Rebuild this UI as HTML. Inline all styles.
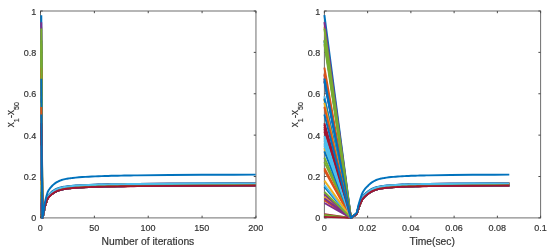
<!DOCTYPE html>
<html><head><meta charset="utf-8"><title>x1-x50</title>
<style>svg text{font-family:"Liberation Sans",Arial,sans-serif;stroke:#333;stroke-width:0.18px}html,body{margin:0;padding:0;background:#fff;width:550px;height:250px;overflow:hidden}</style>
</head><body>
<svg width="550" height="250" viewBox="0 0 550 250" style="display:block;position:absolute;left:0;top:0" >
<rect x="0" y="0" width="550" height="250" fill="#fff"/>
<rect x="40.5" y="11.0" width="215.45" height="206.90" fill="none" stroke="#6e6e6e" stroke-width="1"/>
<path d="M40.50 217.9v-2.2M40.50 11.0v2.2" stroke="#4a4a4a" stroke-width="1" fill="none"/>
<text x="40.30" y="231.1" font-size="9" text-anchor="middle" fill="#333">0</text>
<path d="M94.36 217.9v-2.2M94.36 11.0v2.2" stroke="#4a4a4a" stroke-width="1" fill="none"/>
<text x="94.16" y="231.1" font-size="9" text-anchor="middle" fill="#333">50</text>
<path d="M148.22 217.9v-2.2M148.22 11.0v2.2" stroke="#4a4a4a" stroke-width="1" fill="none"/>
<text x="148.03" y="231.1" font-size="9" text-anchor="middle" fill="#333">100</text>
<path d="M202.09 217.9v-2.2M202.09 11.0v2.2" stroke="#4a4a4a" stroke-width="1" fill="none"/>
<text x="201.89" y="231.1" font-size="9" text-anchor="middle" fill="#333">150</text>
<path d="M255.95 217.9v-2.2M255.95 11.0v2.2" stroke="#4a4a4a" stroke-width="1" fill="none"/>
<text x="255.75" y="231.1" font-size="9" text-anchor="middle" fill="#333">200</text>
<path d="M40.5 217.90h2.2M255.95 217.90h-2.2" stroke="#4a4a4a" stroke-width="1" fill="none"/>
<text x="36.30" y="221.40" font-size="9" text-anchor="end" fill="#333">0</text>
<path d="M40.5 176.52h2.2M255.95 176.52h-2.2" stroke="#4a4a4a" stroke-width="1" fill="none"/>
<text x="36.30" y="180.02" font-size="9" text-anchor="end" fill="#333">0.2</text>
<path d="M40.5 135.14h2.2M255.95 135.14h-2.2" stroke="#4a4a4a" stroke-width="1" fill="none"/>
<text x="36.30" y="138.64" font-size="9" text-anchor="end" fill="#333">0.4</text>
<path d="M40.5 93.76h2.2M255.95 93.76h-2.2" stroke="#4a4a4a" stroke-width="1" fill="none"/>
<text x="36.30" y="97.26" font-size="9" text-anchor="end" fill="#333">0.6</text>
<path d="M40.5 52.38h2.2M255.95 52.38h-2.2" stroke="#4a4a4a" stroke-width="1" fill="none"/>
<text x="36.30" y="55.88" font-size="9" text-anchor="end" fill="#333">0.8</text>
<path d="M40.5 11.00h2.2M255.95 11.00h-2.2" stroke="#4a4a4a" stroke-width="1" fill="none"/>
<text x="36.30" y="14.50" font-size="9" text-anchor="end" fill="#333">1</text>
<text x="147.92" y="244.9" font-size="10.3" text-anchor="middle" fill="#333">Number of iterations</text>
<text transform="translate(13.60 114.65) rotate(-90)" font-size="10" text-anchor="middle" fill="#333">x<tspan font-size="7" dy="5.3">1</tspan><tspan dy="-5.3">-x</tspan><tspan font-size="7" dy="5.3">50</tspan></text>
<g fill="none" stroke-width="1.95" stroke-linejoin="round" stroke-linecap="butt">
<path stroke="#0072BD" d="M41.28 41.00L42.35 217.90L43.43 213.89L44.5 207.99L45.6 203.82L46.7 200.61L47.7 198.13L48.8 196.63L49.9 195.43L51.0 194.43L52.0 193.55L53.1 192.70L54.2 191.98L55.3 191.36L56.4 190.82L57.4 190.35L58.5 189.94L59.6 189.58L60.7 189.25L61.7 188.96L62.8 188.70L63.9 188.48L65.0 188.31L66.1 188.15L67.1 188.01L68.2 187.87L69.3 187.75L70.4 187.64L71.4 187.53L72.5 187.43L75.7 187.16L79.0 186.94L82.2 186.75L85.4 186.59L88.7 186.44L91.9 186.32L95.1 186.21L98.4 186.11L101.6 186.02L104.8 185.94L108.1 185.87L111.3 185.81L114.5 185.75L117.8 185.69L121.0 185.64L124.2 185.59L127.5 185.55L130.7 185.51L133.9 185.47L137.2 185.44L169.5 185.18L201.8 185.03L234.1 184.92L255.6 184.87"/>
<path stroke="#D95319" d="M41.28 80.31L42.35 217.90L43.43 213.94L44.5 208.10L45.6 203.99L46.7 200.81L47.7 198.35L48.8 196.88L49.9 195.68L51.0 194.70L52.0 193.83L53.1 192.99L54.2 192.27L55.3 191.66L56.4 191.13L57.4 190.67L58.5 190.26L59.6 189.90L60.7 189.58L61.7 189.30L62.8 189.04L63.9 188.81L65.0 188.65L66.1 188.49L67.1 188.35L68.2 188.22L69.3 188.10L70.4 187.98L71.4 187.88L72.5 187.78L75.7 187.51L79.0 187.29L82.2 187.11L85.4 186.95L88.7 186.81L91.9 186.68L95.1 186.57L98.4 186.48L101.6 186.39L104.8 186.31L108.1 186.24L111.3 186.18L114.5 186.12L117.8 186.06L121.0 186.01L124.2 185.97L127.5 185.92L130.7 185.88L133.9 185.85L137.2 185.81L169.5 185.56L201.8 185.41L234.1 185.30L255.6 185.25"/>
<path stroke="#EDB120" d="M41.28 26.72L42.35 217.90L43.43 213.80L44.5 207.78L45.6 203.52L46.7 200.23L47.7 197.70L48.8 196.17L49.9 194.94L51.0 193.92L52.0 193.02L53.1 192.15L54.2 191.41L55.3 190.78L56.4 190.23L57.4 189.75L58.5 189.33L59.6 188.96L60.7 188.63L61.7 188.33L62.8 188.07L63.9 187.84L65.0 187.66L66.1 187.51L67.1 187.36L68.2 187.22L69.3 187.10L70.4 186.98L71.4 186.87L72.5 186.77L75.7 186.49L79.0 186.27L82.2 186.07L85.4 185.91L88.7 185.76L91.9 185.63L95.1 185.52L98.4 185.42L101.6 185.33L104.8 185.25L108.1 185.18L111.3 185.11L114.5 185.05L117.8 184.99L121.0 184.94L124.2 184.89L127.5 184.85L130.7 184.81L133.9 184.77L137.2 184.73L169.5 184.47L201.8 184.31L234.1 184.21L255.6 184.15"/>
<path stroke="#7E2F8E" d="M41.28 78.24L42.35 217.90L43.43 213.96L44.5 208.16L45.6 204.06L46.7 200.90L47.7 198.46L48.8 196.99L49.9 195.80L51.0 194.82L52.0 193.96L53.1 193.12L54.2 192.41L55.3 191.80L56.4 191.27L57.4 190.81L58.5 190.41L59.6 190.05L60.7 189.73L61.7 189.45L62.8 189.19L63.9 188.97L65.0 188.80L66.1 188.65L67.1 188.51L68.2 188.38L69.3 188.25L70.4 188.14L71.4 188.04L72.5 187.94L75.7 187.67L79.0 187.46L82.2 187.27L85.4 187.11L88.7 186.97L91.9 186.85L95.1 186.74L98.4 186.64L101.6 186.56L104.8 186.48L108.1 186.41L111.3 186.34L114.5 186.28L117.8 186.23L121.0 186.18L124.2 186.13L127.5 186.09L130.7 186.05L133.9 186.01L137.2 185.98L169.5 185.73L201.8 185.58L234.1 185.47L255.6 185.42"/>
<path stroke="#77AC30" d="M41.28 162.04L42.35 217.90L43.43 213.83L44.5 207.85L45.6 203.63L46.7 200.36L47.7 197.85L48.8 196.33L49.9 195.11L51.0 194.10L52.0 193.21L53.1 192.34L54.2 191.61L55.3 190.98L56.4 190.44L57.4 189.96L58.5 189.55L59.6 189.18L60.7 188.85L61.7 188.56L62.8 188.29L63.9 188.06L65.0 187.89L66.1 187.73L67.1 187.59L68.2 187.45L69.3 187.33L70.4 187.21L71.4 187.10L72.5 187.00L75.7 186.73L79.0 186.50L82.2 186.31L85.4 186.15L88.7 186.00L91.9 185.88L95.1 185.76L98.4 185.66L101.6 185.58L104.8 185.49L108.1 185.42L111.3 185.36L114.5 185.29L117.8 185.24L121.0 185.19L124.2 185.14L127.5 185.10L130.7 185.06L133.9 185.02L137.2 184.98L169.5 184.72L201.8 184.56L234.1 184.46L255.6 184.41"/>
<path stroke="#4DBEEE" d="M41.28 138.24L42.35 217.90L43.43 213.88L44.5 207.96L45.6 203.79L46.7 200.56L47.7 198.07L48.8 196.57L49.9 195.36L51.0 194.37L52.0 193.48L53.1 192.63L54.2 191.90L55.3 191.28L56.4 190.74L57.4 190.27L58.5 189.86L59.6 189.50L60.7 189.17L61.7 188.88L62.8 188.62L63.9 188.39L65.0 188.22L66.1 188.07L67.1 187.92L68.2 187.79L69.3 187.67L70.4 187.55L71.4 187.44L72.5 187.34L75.7 187.08L79.0 186.85L82.2 186.66L85.4 186.50L88.7 186.36L91.9 186.23L95.1 186.12L98.4 186.02L101.6 185.94L104.8 185.86L108.1 185.78L111.3 185.72L114.5 185.66L117.8 185.60L121.0 185.55L124.2 185.51L127.5 185.46L130.7 185.42L133.9 185.38L137.2 185.35L169.5 185.09L201.8 184.94L234.1 184.83L255.6 184.78"/>
<path stroke="#A2142F" d="M41.28 128.93L42.35 217.90L43.43 213.96L44.5 208.17L45.6 204.07L46.7 200.91L47.7 198.48L48.8 197.01L49.9 195.82L51.0 194.85L52.0 193.98L53.1 193.14L54.2 192.43L55.3 191.82L56.4 191.30L57.4 190.84L58.5 190.43L59.6 190.08L60.7 189.76L61.7 189.47L62.8 189.22L63.9 189.00L65.0 188.83L66.1 188.68L67.1 188.54L68.2 188.40L69.3 188.28L70.4 188.17L71.4 188.06L72.5 187.97L75.7 187.70L79.0 187.49L82.2 187.30L85.4 187.14L88.7 187.00L91.9 186.88L95.1 186.77L98.4 186.67L101.6 186.59L104.8 186.51L108.1 186.44L111.3 186.37L114.5 186.32L117.8 186.26L121.0 186.21L124.2 186.17L127.5 186.12L130.7 186.08L133.9 186.05L137.2 186.01L169.5 185.76L201.8 185.61L234.1 185.51L255.6 185.46"/>
<path stroke="#0072BD" d="M41.28 186.87L42.35 217.90L43.43 213.84L44.5 207.87L45.6 203.65L46.7 200.40L47.7 197.89L48.8 196.37L49.9 195.15L51.0 194.15L52.0 193.25L53.1 192.39L54.2 191.66L55.3 191.03L56.4 190.49L57.4 190.02L58.5 189.60L59.6 189.23L60.7 188.90L61.7 188.61L62.8 188.35L63.9 188.12L65.0 187.95L66.1 187.79L67.1 187.64L68.2 187.51L69.3 187.38L70.4 187.27L71.4 187.16L72.5 187.06L75.7 186.79L79.0 186.56L82.2 186.37L85.4 186.20L88.7 186.06L91.9 185.94L95.1 185.82L98.4 185.72L101.6 185.64L104.8 185.56L108.1 185.48L111.3 185.42L114.5 185.36L117.8 185.30L121.0 185.25L124.2 185.20L127.5 185.16L130.7 185.12L133.9 185.08L137.2 185.04L169.5 184.78L201.8 184.63L234.1 184.52L255.6 184.47"/>
<path stroke="#D95319" d="M41.28 200.31L42.35 217.90L43.43 213.97L44.5 208.18L45.6 204.09L46.7 200.94L47.7 198.50L48.8 197.04L49.9 195.85L51.0 194.88L52.0 194.01L53.1 193.18L54.2 192.47L55.3 191.86L56.4 191.33L57.4 190.88L58.5 190.47L59.6 190.11L60.7 189.80L61.7 189.51L62.8 189.26L63.9 189.04L65.0 188.87L66.1 188.72L67.1 188.58L68.2 188.45L69.3 188.32L70.4 188.21L71.4 188.11L72.5 188.01L75.7 187.75L79.0 187.53L82.2 187.34L85.4 187.18L88.7 187.04L91.9 186.92L95.1 186.81L98.4 186.72L101.6 186.63L104.8 186.55L108.1 186.48L111.3 186.42L114.5 186.36L117.8 186.30L121.0 186.26L124.2 186.21L127.5 186.17L130.7 186.13L133.9 186.09L137.2 186.06L169.5 185.80L201.8 185.65L234.1 185.55L255.6 185.50"/>
<path stroke="#EDB120" d="M41.28 148.17L42.35 217.90L43.43 213.86L44.5 207.92L45.6 203.72L46.7 200.48L47.7 197.98L48.8 196.48L49.9 195.26L51.0 194.26L52.0 193.37L53.1 192.51L54.2 191.79L55.3 191.16L56.4 190.62L57.4 190.15L58.5 189.74L59.6 189.37L60.7 189.04L61.7 188.75L62.8 188.49L63.9 188.26L65.0 188.09L66.1 187.93L67.1 187.79L68.2 187.66L69.3 187.53L70.4 187.41L71.4 187.31L72.5 187.21L75.7 186.94L79.0 186.71L82.2 186.52L85.4 186.36L88.7 186.22L91.9 186.09L95.1 185.98L98.4 185.88L101.6 185.79L104.8 185.71L108.1 185.64L111.3 185.57L114.5 185.51L117.8 185.46L121.0 185.41L124.2 185.36L127.5 185.32L130.7 185.27L133.9 185.24L137.2 185.20L169.5 184.94L201.8 184.79L234.1 184.68L255.6 184.63"/>
<path stroke="#7E2F8E" d="M41.28 75.14L42.35 217.90L43.43 213.96L44.5 208.16L45.6 204.06L46.7 200.90L47.7 198.46L48.8 196.99L49.9 195.80L51.0 194.83L52.0 193.96L53.1 193.12L54.2 192.41L55.3 191.80L56.4 191.28L57.4 190.82L58.5 190.41L59.6 190.05L60.7 189.74L61.7 189.45L62.8 189.19L63.9 188.97L65.0 188.81L66.1 188.65L67.1 188.51L68.2 188.38L69.3 188.26L70.4 188.15L71.4 188.04L72.5 187.94L75.7 187.68L79.0 187.46L82.2 187.28L85.4 187.11L88.7 186.98L91.9 186.85L95.1 186.74L98.4 186.65L101.6 186.56L104.8 186.48L108.1 186.41L111.3 186.35L114.5 186.29L117.8 186.24L121.0 186.19L124.2 186.14L127.5 186.10L130.7 186.06L133.9 186.02L137.2 185.99L169.5 185.73L201.8 185.58L234.1 185.48L255.6 185.43"/>
<path stroke="#77AC30" d="M41.28 157.69L42.35 217.90L43.43 213.95L44.5 208.14L45.6 204.04L46.7 200.88L47.7 198.43L48.8 196.96L49.9 195.77L51.0 194.79L52.0 193.93L53.1 193.09L54.2 192.38L55.3 191.77L56.4 191.24L57.4 190.78L58.5 190.37L59.6 190.01L60.7 189.70L61.7 189.41L62.8 189.15L63.9 188.93L65.0 188.77L66.1 188.61L67.1 188.47L68.2 188.34L69.3 188.22L70.4 188.10L71.4 188.00L72.5 187.90L75.7 187.64L79.0 187.42L82.2 187.23L85.4 187.07L88.7 186.93L91.9 186.81L95.1 186.70L98.4 186.60L101.6 186.52L104.8 186.44L108.1 186.37L111.3 186.30L114.5 186.25L117.8 186.19L121.0 186.14L124.2 186.10L127.5 186.05L130.7 186.01L133.9 185.98L137.2 185.94L169.5 185.69L201.8 185.54L234.1 185.43L255.6 185.38"/>
<path stroke="#4DBEEE" d="M41.28 143.42L42.35 217.90L43.43 213.86L44.5 207.92L45.6 203.73L46.7 200.49L47.7 198.00L48.8 196.49L49.9 195.28L51.0 194.27L52.0 193.39L53.1 192.53L54.2 191.80L55.3 191.18L56.4 190.64L57.4 190.17L58.5 189.75L59.6 189.39L60.7 189.06L61.7 188.77L62.8 188.51L63.9 188.28L65.0 188.11L66.1 187.95L67.1 187.81L68.2 187.67L69.3 187.55L70.4 187.43L71.4 187.33L72.5 187.22L75.7 186.96L79.0 186.73L82.2 186.54L85.4 186.38L88.7 186.23L91.9 186.11L95.1 186.00L98.4 185.90L101.6 185.81L104.8 185.73L108.1 185.66L111.3 185.59L114.5 185.53L117.8 185.48L121.0 185.43L124.2 185.38L127.5 185.34L130.7 185.29L133.9 185.26L137.2 185.22L169.5 184.96L201.8 184.81L234.1 184.70L255.6 184.65"/>
<path stroke="#A2142F" d="M41.28 214.18L42.35 217.90L43.43 213.76L44.5 207.66L45.6 203.35L46.7 200.03L47.7 197.47L48.8 195.92L49.9 194.68L51.0 193.65L52.0 192.74L53.1 191.86L54.2 191.11L55.3 190.47L56.4 189.91L57.4 189.43L58.5 189.01L59.6 188.63L60.7 188.30L61.7 188.00L62.8 187.73L63.9 187.49L65.0 187.32L66.1 187.16L67.1 187.01L68.2 186.87L69.3 186.74L70.4 186.62L71.4 186.51L72.5 186.41L75.7 186.14L79.0 185.90L82.2 185.71L85.4 185.54L88.7 185.39L91.9 185.27L95.1 185.15L98.4 185.05L101.6 184.96L104.8 184.88L108.1 184.80L111.3 184.74L114.5 184.67L117.8 184.62L121.0 184.56L124.2 184.52L127.5 184.47L130.7 184.43L133.9 184.39L137.2 184.35L169.5 184.09L201.8 183.93L234.1 183.82L255.6 183.77"/>
<path stroke="#0072BD" d="M41.28 15.14L42.35 217.90L43.43 213.94L44.5 208.12L45.6 204.01L46.7 200.84L47.7 198.39L48.8 196.92L49.9 195.72L51.0 194.74L52.0 193.87L53.1 193.03L54.2 192.32L55.3 191.71L56.4 191.18L57.4 190.72L58.5 190.31L59.6 189.95L60.7 189.63L61.7 189.35L62.8 189.09L63.9 188.87L65.0 188.70L66.1 188.55L67.1 188.40L68.2 188.27L69.3 188.15L70.4 188.04L71.4 187.93L72.5 187.83L75.7 187.57L79.0 187.35L82.2 187.16L85.4 187.00L88.7 186.86L91.9 186.74L95.1 186.63L98.4 186.53L101.6 186.45L104.8 186.37L108.1 186.30L111.3 186.23L114.5 186.17L117.8 186.12L121.0 186.07L124.2 186.02L127.5 185.98L130.7 185.94L133.9 185.90L137.2 185.87L169.5 185.62L201.8 185.46L234.1 185.36L255.6 185.31"/>
<path stroke="#D95319" d="M41.28 170.31L42.35 217.90L43.43 213.92L44.5 208.06L45.6 203.92L46.7 200.72L47.7 198.26L48.8 196.77L49.9 195.58L51.0 194.59L52.0 193.71L53.1 192.87L54.2 192.15L55.3 191.53L56.4 191.00L57.4 190.54L58.5 190.13L59.6 189.77L60.7 189.44L61.7 189.16L62.8 188.90L63.9 188.67L65.0 188.50L66.1 188.35L67.1 188.21L68.2 188.07L69.3 187.95L70.4 187.84L71.4 187.73L72.5 187.63L75.7 187.37L79.0 187.15L82.2 186.96L85.4 186.80L88.7 186.66L91.9 186.53L95.1 186.42L98.4 186.32L101.6 186.24L104.8 186.16L108.1 186.09L111.3 186.02L114.5 185.96L117.8 185.91L121.0 185.86L124.2 185.81L127.5 185.77L130.7 185.73L133.9 185.69L137.2 185.66L169.5 185.40L201.8 185.25L234.1 185.14L255.6 185.09"/>
<path stroke="#EDB120" d="M41.28 99.55L42.35 217.90L43.43 213.81L44.5 207.79L45.6 203.54L46.7 200.26L47.7 197.73L48.8 196.20L49.9 194.97L51.0 193.96L52.0 193.06L53.1 192.19L54.2 191.45L55.3 190.82L56.4 190.27L57.4 189.80L58.5 189.38L59.6 189.01L60.7 188.67L61.7 188.38L62.8 188.11L63.9 187.88L65.0 187.71L66.1 187.55L67.1 187.40L68.2 187.27L69.3 187.14L70.4 187.03L71.4 186.92L72.5 186.81L75.7 186.54L79.0 186.31L82.2 186.12L85.4 185.96L88.7 185.81L91.9 185.68L95.1 185.57L98.4 185.47L101.6 185.38L104.8 185.30L108.1 185.23L111.3 185.16L114.5 185.10L117.8 185.04L121.0 184.99L124.2 184.94L127.5 184.90L130.7 184.86L133.9 184.82L137.2 184.78L169.5 184.52L201.8 184.37L234.1 184.26L255.6 184.21"/>
<path stroke="#7E2F8E" d="M41.28 22.17L42.35 217.90L43.43 213.72L44.5 207.58L45.6 203.24L46.7 199.89L47.7 197.31L48.8 195.75L49.9 194.49L51.0 193.46L52.0 192.54L53.1 191.65L54.2 190.90L55.3 190.26L56.4 189.70L57.4 189.21L58.5 188.78L59.6 188.40L60.7 188.07L61.7 187.76L62.8 187.49L63.9 187.26L65.0 187.08L66.1 186.92L67.1 186.77L68.2 186.63L69.3 186.50L70.4 186.38L71.4 186.27L72.5 186.17L75.7 185.89L79.0 185.66L82.2 185.46L85.4 185.29L88.7 185.14L91.9 185.01L95.1 184.90L98.4 184.80L101.6 184.70L104.8 184.62L108.1 184.55L111.3 184.48L114.5 184.42L117.8 184.36L121.0 184.31L124.2 184.26L127.5 184.21L130.7 184.17L133.9 184.13L137.2 184.09L169.5 183.83L201.8 183.67L234.1 183.56L255.6 183.50"/>
<path stroke="#77AC30" d="M41.28 215.00L42.35 217.90L43.43 213.82L44.5 207.82L45.6 203.59L46.7 200.32L47.7 197.79L48.8 196.28L49.9 195.05L51.0 194.04L52.0 193.14L53.1 192.27L54.2 191.54L55.3 190.91L56.4 190.36L57.4 189.89L58.5 189.47L59.6 189.10L60.7 188.77L61.7 188.48L62.8 188.21L63.9 187.98L65.0 187.81L66.1 187.65L67.1 187.50L68.2 187.37L69.3 187.24L70.4 187.13L71.4 187.02L72.5 186.92L75.7 186.64L79.0 186.42L82.2 186.23L85.4 186.06L88.7 185.92L91.9 185.79L95.1 185.68L98.4 185.58L101.6 185.49L104.8 185.41L108.1 185.33L111.3 185.27L114.5 185.21L117.8 185.15L121.0 185.10L124.2 185.05L127.5 185.01L130.7 184.97L133.9 184.93L137.2 184.89L169.5 184.63L201.8 184.47L234.1 184.37L255.6 184.32"/>
<path stroke="#4DBEEE" d="M41.28 140.31L42.35 217.90L43.43 213.87L44.5 207.94L45.6 203.76L46.7 200.52L47.7 198.03L48.8 196.53L49.9 195.32L51.0 194.32L52.0 193.43L53.1 192.58L54.2 191.85L55.3 191.23L56.4 190.69L57.4 190.22L58.5 189.80L59.6 189.44L60.7 189.11L61.7 188.82L62.8 188.56L63.9 188.33L65.0 188.16L66.1 188.01L67.1 187.86L68.2 187.73L69.3 187.60L70.4 187.49L71.4 187.38L72.5 187.28L75.7 187.01L79.0 186.79L82.2 186.60L85.4 186.44L88.7 186.29L91.9 186.17L95.1 186.06L98.4 185.96L101.6 185.87L104.8 185.79L108.1 185.72L111.3 185.65L114.5 185.59L117.8 185.54L121.0 185.49L124.2 185.44L127.5 185.40L130.7 185.35L133.9 185.32L137.2 185.28L169.5 185.02L201.8 184.87L234.1 184.76L255.6 184.71"/>
<path stroke="#A2142F" d="M41.28 216.87L42.35 217.90L43.43 213.72L44.5 207.56L45.6 203.21L46.7 199.86L47.7 197.27L48.8 195.71L49.9 194.45L51.0 193.41L52.0 192.49L53.1 191.61L54.2 190.85L55.3 190.21L56.4 189.65L57.4 189.16L58.5 188.73L59.6 188.35L60.7 188.01L61.7 187.71L62.8 187.44L63.9 187.20L65.0 187.03L66.1 186.86L67.1 186.71L68.2 186.57L69.3 186.44L70.4 186.32L71.4 186.21L72.5 186.11L75.7 185.83L79.0 185.60L82.2 185.40L85.4 185.23L88.7 185.08L91.9 184.95L95.1 184.84L98.4 184.74L101.6 184.64L104.8 184.56L108.1 184.49L111.3 184.42L114.5 184.35L117.8 184.30L121.0 184.24L124.2 184.20L127.5 184.15L130.7 184.11L133.9 184.07L137.2 184.03L169.5 183.76L201.8 183.60L234.1 183.50L255.6 183.44"/>
<path stroke="#0072BD" d="M41.28 151.28L42.35 217.90L43.43 213.96L44.5 208.17L45.6 204.08L46.7 200.93L47.7 198.49L48.8 197.02L49.9 195.84L51.0 194.86L52.0 194.00L53.1 193.16L54.2 192.45L55.3 191.84L56.4 191.32L57.4 190.86L58.5 190.45L59.6 190.10L60.7 189.78L61.7 189.50L62.8 189.24L63.9 189.02L65.0 188.85L66.1 188.70L67.1 188.56L68.2 188.43L69.3 188.31L70.4 188.19L71.4 188.09L72.5 187.99L75.7 187.73L79.0 187.51L82.2 187.32L85.4 187.16L88.7 187.02L91.9 186.90L95.1 186.79L98.4 186.70L101.6 186.61L104.8 186.53L108.1 186.46L111.3 186.40L114.5 186.34L117.8 186.29L121.0 186.24L124.2 186.19L127.5 186.15L130.7 186.11L133.9 186.07L137.2 186.04L169.5 185.78L201.8 185.63L234.1 185.53L255.6 185.48"/>
<path stroke="#D95319" d="M41.28 168.24L42.35 217.90L43.43 213.75L44.5 207.64L45.6 203.32L46.7 199.99L47.7 197.43L48.8 195.88L49.9 194.63L51.0 193.60L52.0 192.68L53.1 191.80L54.2 191.06L55.3 190.41L56.4 189.86L57.4 189.37L58.5 188.95L59.6 188.57L60.7 188.24L61.7 187.94L62.8 187.67L63.9 187.43L65.0 187.26L66.1 187.10L67.1 186.95L68.2 186.81L69.3 186.68L70.4 186.56L71.4 186.45L72.5 186.35L75.7 186.07L79.0 185.84L82.2 185.64L85.4 185.48L88.7 185.33L91.9 185.20L95.1 185.09L98.4 184.98L101.6 184.89L104.8 184.81L108.1 184.74L111.3 184.67L114.5 184.61L117.8 184.55L121.0 184.50L124.2 184.45L127.5 184.40L130.7 184.36L133.9 184.32L137.2 184.29L169.5 184.02L201.8 183.86L234.1 183.75L255.6 183.70"/>
<path stroke="#EDB120" d="M41.28 98.93L42.35 217.90L43.43 213.90L44.5 208.01L45.6 203.86L46.7 200.65L47.7 198.17L48.8 196.68L49.9 195.48L51.0 194.48L52.0 193.60L53.1 192.76L54.2 192.03L55.3 191.42L56.4 190.88L57.4 190.41L58.5 190.00L59.6 189.64L60.7 189.32L61.7 189.03L62.8 188.77L63.9 188.54L65.0 188.37L66.1 188.22L67.1 188.08L68.2 187.94L69.3 187.82L70.4 187.70L71.4 187.60L72.5 187.50L75.7 187.23L79.0 187.01L82.2 186.82L85.4 186.66L88.7 186.52L91.9 186.39L95.1 186.28L98.4 186.18L101.6 186.10L104.8 186.02L108.1 185.95L111.3 185.88L114.5 185.82L117.8 185.77L121.0 185.72L124.2 185.67L127.5 185.63L130.7 185.58L133.9 185.55L137.2 185.51L169.5 185.26L201.8 185.10L234.1 185.00L255.6 184.95"/>
<path stroke="#7E2F8E" d="M41.28 81.35L42.35 217.90L43.43 213.94L44.5 208.11L45.6 203.99L46.7 200.81L47.7 198.36L48.8 196.89L49.9 195.69L51.0 194.71L52.0 193.84L53.1 193.00L54.2 192.28L55.3 191.67L56.4 191.14L57.4 190.68L58.5 190.27L59.6 189.91L60.7 189.59L61.7 189.31L62.8 189.05L63.9 188.83L65.0 188.66L66.1 188.51L67.1 188.36L68.2 188.23L69.3 188.11L70.4 188.00L71.4 187.89L72.5 187.79L75.7 187.53L79.0 187.31L82.2 187.12L85.4 186.96L88.7 186.82L91.9 186.70L95.1 186.59L98.4 186.49L101.6 186.40L104.8 186.33L108.1 186.25L111.3 186.19L114.5 186.13L117.8 186.08L121.0 186.03L124.2 185.98L127.5 185.94L130.7 185.90L133.9 185.86L137.2 185.83L169.5 185.57L201.8 185.42L234.1 185.32L255.6 185.27"/>
<path stroke="#77AC30" d="M41.28 39.97L42.35 217.90L43.43 213.94L44.5 208.13L45.6 204.02L46.7 200.84L47.7 198.40L48.8 196.92L49.9 195.73L51.0 194.75L52.0 193.88L53.1 193.04L54.2 192.33L55.3 191.72L56.4 191.19L57.4 190.73L58.5 190.32L59.6 189.96L60.7 189.64L61.7 189.36L62.8 189.10L63.9 188.88L65.0 188.71L66.1 188.56L67.1 188.42L68.2 188.29L69.3 188.16L70.4 188.05L71.4 187.94L72.5 187.84L75.7 187.58L79.0 187.36L82.2 187.18L85.4 187.02L88.7 186.88L91.9 186.75L95.1 186.64L98.4 186.55L101.6 186.46L104.8 186.38L108.1 186.31L111.3 186.25L114.5 186.19L117.8 186.13L121.0 186.08L124.2 186.04L127.5 185.99L130.7 185.95L133.9 185.92L137.2 185.88L169.5 185.63L201.8 185.48L234.1 185.38L255.6 185.32"/>
<path stroke="#4DBEEE" d="M41.28 185.00L42.35 217.90L43.43 213.89L44.5 208.00L45.6 203.84L46.7 200.63L47.7 198.15L48.8 196.65L49.9 195.45L51.0 194.46L52.0 193.57L53.1 192.72L54.2 192.00L55.3 191.38L56.4 190.85L57.4 190.38L58.5 189.97L59.6 189.61L60.7 189.28L61.7 188.99L62.8 188.73L63.9 188.51L65.0 188.34L66.1 188.18L67.1 188.04L68.2 187.90L69.3 187.78L70.4 187.67L71.4 187.56L72.5 187.46L75.7 187.19L79.0 186.97L82.2 186.78L85.4 186.62L88.7 186.48L91.9 186.35L95.1 186.24L98.4 186.14L101.6 186.06L104.8 185.98L108.1 185.91L111.3 185.84L114.5 185.78L117.8 185.73L121.0 185.67L124.2 185.63L127.5 185.58L130.7 185.54L133.9 185.51L137.2 185.47L169.5 185.22L201.8 185.06L234.1 184.96L255.6 184.91"/>
<path stroke="#A2142F" d="M41.28 124.80L42.35 217.90L43.43 213.76L44.5 207.67L45.6 203.36L46.7 200.04L47.7 197.48L48.8 195.94L49.9 194.69L51.0 193.66L52.0 192.75L53.1 191.87L54.2 191.13L55.3 190.49L56.4 189.93L57.4 189.45L58.5 189.03L59.6 188.65L60.7 188.32L61.7 188.02L62.8 187.75L63.9 187.51L65.0 187.34L66.1 187.18L67.1 187.03L68.2 186.89L69.3 186.77L70.4 186.65L71.4 186.54L72.5 186.43L75.7 186.16L79.0 185.93L82.2 185.73L85.4 185.56L88.7 185.42L91.9 185.29L95.1 185.17L98.4 185.07L101.6 184.98L104.8 184.90L108.1 184.83L111.3 184.76L114.5 184.70L117.8 184.64L121.0 184.59L124.2 184.54L127.5 184.49L130.7 184.45L133.9 184.41L137.2 184.38L169.5 184.11L201.8 183.95L234.1 183.85L255.6 183.79"/>
<path stroke="#0072BD" d="M41.28 81.35L42.35 217.90L43.43 213.93L44.5 208.08L45.6 203.96L46.7 200.77L47.7 198.32L48.8 196.83L49.9 195.64L51.0 194.65L52.0 193.78L53.1 192.94L54.2 192.22L55.3 191.61L56.4 191.08L57.4 190.61L58.5 190.21L59.6 189.85L60.7 189.52L61.7 189.24L62.8 188.98L63.9 188.76L65.0 188.59L66.1 188.43L67.1 188.29L68.2 188.16L69.3 188.04L70.4 187.92L71.4 187.82L72.5 187.72L75.7 187.45L79.0 187.23L82.2 187.05L85.4 186.88L88.7 186.74L91.9 186.62L95.1 186.51L98.4 186.41L101.6 186.33L104.8 186.25L108.1 186.18L111.3 186.11L114.5 186.05L117.8 186.00L121.0 185.95L124.2 185.90L127.5 185.86L130.7 185.82L133.9 185.78L137.2 185.75L169.5 185.49L201.8 185.34L234.1 185.24L255.6 185.19"/>
<path stroke="#D95319" d="M41.28 73.69L42.35 217.90L43.43 213.82L44.5 207.82L45.6 203.58L46.7 200.31L47.7 197.79L48.8 196.27L49.9 195.04L51.0 194.03L52.0 193.13L53.1 192.27L54.2 191.53L55.3 190.90L56.4 190.36L57.4 189.88L58.5 189.46L59.6 189.09L60.7 188.76L61.7 188.47L62.8 188.20L63.9 187.97L65.0 187.80L66.1 187.64L67.1 187.50L68.2 187.36L69.3 187.23L70.4 187.12L71.4 187.01L72.5 186.91L75.7 186.64L79.0 186.41L82.2 186.22L85.4 186.05L88.7 185.91L91.9 185.78L95.1 185.67L98.4 185.57L101.6 185.48L104.8 185.40L108.1 185.32L111.3 185.26L114.5 185.20L117.8 185.14L121.0 185.09L124.2 185.04L127.5 185.00L130.7 184.96L133.9 184.92L137.2 184.88L169.5 184.62L201.8 184.47L234.1 184.36L255.6 184.31"/>
<path stroke="#EDB120" d="M41.28 196.80L42.35 217.90L43.43 213.81L44.5 207.78L45.6 203.53L46.7 200.25L47.7 197.71L48.8 196.19L49.9 194.96L51.0 193.94L52.0 193.04L53.1 192.17L54.2 191.43L55.3 190.80L56.4 190.25L57.4 189.77L58.5 189.35L59.6 188.98L60.7 188.65L61.7 188.36L62.8 188.09L63.9 187.86L65.0 187.69L66.1 187.53L67.1 187.38L68.2 187.25L69.3 187.12L70.4 187.00L71.4 186.89L72.5 186.79L75.7 186.52L79.0 186.29L82.2 186.10L85.4 185.93L88.7 185.79L91.9 185.66L95.1 185.55L98.4 185.45L101.6 185.36L104.8 185.28L108.1 185.20L111.3 185.14L114.5 185.07L117.8 185.02L121.0 184.97L124.2 184.92L127.5 184.87L130.7 184.83L133.9 184.80L137.2 184.76L169.5 184.50L201.8 184.34L234.1 184.23L255.6 184.18"/>
<path stroke="#7E2F8E" d="M41.28 194.31L42.35 217.90L43.43 213.88L44.5 207.96L45.6 203.78L46.7 200.55L47.7 198.06L48.8 196.56L49.9 195.35L51.0 194.36L52.0 193.47L53.1 192.62L54.2 191.89L55.3 191.27L56.4 190.73L57.4 190.26L58.5 189.85L59.6 189.48L60.7 189.16L61.7 188.87L62.8 188.61L63.9 188.38L65.0 188.21L66.1 188.06L67.1 187.91L68.2 187.78L69.3 187.65L70.4 187.54L71.4 187.43L72.5 187.33L75.7 187.06L79.0 186.84L82.2 186.65L85.4 186.49L88.7 186.34L91.9 186.22L95.1 186.11L98.4 186.01L101.6 185.92L104.8 185.84L108.1 185.77L111.3 185.70L114.5 185.64L117.8 185.59L121.0 185.54L124.2 185.49L127.5 185.45L130.7 185.41L133.9 185.37L137.2 185.33L169.5 185.08L201.8 184.92L234.1 184.82L255.6 184.77"/>
<path stroke="#77AC30" d="M41.28 28.59L42.35 217.90L43.43 213.83L44.5 207.84L45.6 203.62L46.7 200.35L47.7 197.83L48.8 196.32L49.9 195.09L51.0 194.08L52.0 193.19L53.1 192.32L54.2 191.59L55.3 190.96L56.4 190.42L57.4 189.94L58.5 189.52L59.6 189.16L60.7 188.83L61.7 188.53L62.8 188.27L63.9 188.04L65.0 187.87L66.1 187.71L67.1 187.56L68.2 187.43L69.3 187.30L70.4 187.19L71.4 187.08L72.5 186.97L75.7 186.70L79.0 186.48L82.2 186.29L85.4 186.12L88.7 185.98L91.9 185.85L95.1 185.74L98.4 185.64L101.6 185.55L104.8 185.47L108.1 185.40L111.3 185.33L114.5 185.27L117.8 185.21L121.0 185.16L124.2 185.11L127.5 185.07L130.7 185.03L133.9 184.99L137.2 184.96L169.5 184.70L201.8 184.54L234.1 184.43L255.6 184.38"/>
<path stroke="#4DBEEE" d="M41.28 96.24L42.35 217.90L43.43 213.96L44.5 208.16L45.6 204.07L46.7 200.91L47.7 198.47L48.8 197.00L49.9 195.82L51.0 194.84L52.0 193.97L53.1 193.13L54.2 192.42L55.3 191.82L56.4 191.29L57.4 190.83L58.5 190.42L59.6 190.07L60.7 189.75L61.7 189.46L62.8 189.21L63.9 188.99L65.0 188.82L66.1 188.67L67.1 188.53L68.2 188.39L69.3 188.27L70.4 188.16L71.4 188.05L72.5 187.96L75.7 187.69L79.0 187.48L82.2 187.29L85.4 187.13L88.7 186.99L91.9 186.87L95.1 186.76L98.4 186.66L101.6 186.58L104.8 186.50L108.1 186.43L111.3 186.36L114.5 186.30L117.8 186.25L121.0 186.20L124.2 186.15L127.5 186.11L130.7 186.07L133.9 186.04L137.2 186.00L169.5 185.75L201.8 185.60L234.1 185.50L255.6 185.44"/>
<path stroke="#A2142F" d="M41.28 131.42L42.35 217.90L43.43 213.96L44.5 208.16L45.6 204.07L46.7 200.91L47.7 198.47L48.8 197.01L49.9 195.82L51.0 194.84L52.0 193.98L53.1 193.14L54.2 192.43L55.3 191.82L56.4 191.29L57.4 190.83L58.5 190.43L59.6 190.07L60.7 189.76L61.7 189.47L62.8 189.21L63.9 188.99L65.0 188.83L66.1 188.67L67.1 188.53L68.2 188.40L69.3 188.28L70.4 188.17L71.4 188.06L72.5 187.96L75.7 187.70L79.0 187.48L82.2 187.30L85.4 187.14L88.7 187.00L91.9 186.87L95.1 186.77L98.4 186.67L101.6 186.58L104.8 186.51L108.1 186.43L111.3 186.37L114.5 186.31L117.8 186.26L121.0 186.21L124.2 186.16L127.5 186.12L130.7 186.08L133.9 186.04L137.2 186.01L169.5 185.76L201.8 185.60L234.1 185.50L255.6 185.45"/>
<path stroke="#0072BD" d="M41.28 98.52L42.35 217.90L43.43 213.92L44.5 208.07L45.6 203.93L46.7 200.74L47.7 198.28L48.8 196.80L49.9 195.60L51.0 194.62L52.0 193.74L53.1 192.90L54.2 192.18L55.3 191.56L56.4 191.03L57.4 190.57L58.5 190.16L59.6 189.80L60.7 189.48L61.7 189.19L62.8 188.93L63.9 188.71L65.0 188.54L66.1 188.38L67.1 188.24L68.2 188.11L69.3 187.99L70.4 187.87L71.4 187.77L72.5 187.67L75.7 187.40L79.0 187.18L82.2 186.99L85.4 186.83L88.7 186.69L91.9 186.57L95.1 186.46L98.4 186.36L101.6 186.27L104.8 186.19L108.1 186.12L111.3 186.06L114.5 186.00L117.8 185.94L121.0 185.89L124.2 185.85L127.5 185.80L130.7 185.76L133.9 185.73L137.2 185.69L169.5 185.44L201.8 185.29L234.1 185.18L255.6 185.13"/>
<path stroke="#D95319" d="M41.28 67.69L42.35 217.90L43.43 213.79L44.5 207.76L45.6 203.49L46.7 200.20L47.7 197.66L48.8 196.13L49.9 194.89L51.0 193.88L52.0 192.97L53.1 192.10L54.2 191.36L55.3 190.73L56.4 190.18L57.4 189.70L58.5 189.28L59.6 188.91L60.7 188.57L61.7 188.28L62.8 188.01L63.9 187.78L65.0 187.61L66.1 187.45L67.1 187.30L68.2 187.16L69.3 187.04L70.4 186.92L71.4 186.81L72.5 186.71L75.7 186.43L79.0 186.21L82.2 186.01L85.4 185.85L88.7 185.70L91.9 185.57L95.1 185.46L98.4 185.36L101.6 185.27L104.8 185.19L108.1 185.11L111.3 185.05L114.5 184.99L117.8 184.93L121.0 184.88L124.2 184.83L127.5 184.79L130.7 184.74L133.9 184.71L137.2 184.67L169.5 184.41L201.8 184.25L234.1 184.14L255.6 184.09"/>
<path stroke="#EDB120" d="M41.28 102.86L42.35 217.90L43.43 213.86L44.5 207.92L45.6 203.73L46.7 200.49L47.7 197.99L48.8 196.49L49.9 195.27L51.0 194.27L52.0 193.38L53.1 192.52L54.2 191.80L55.3 191.17L56.4 190.63L57.4 190.16L58.5 189.75L59.6 189.38L60.7 189.06L61.7 188.76L62.8 188.50L63.9 188.27L65.0 188.10L66.1 187.95L67.1 187.80L68.2 187.67L69.3 187.54L70.4 187.43L71.4 187.32L72.5 187.22L75.7 186.95L79.0 186.73L82.2 186.54L85.4 186.37L88.7 186.23L91.9 186.10L95.1 185.99L98.4 185.89L101.6 185.80L104.8 185.72L108.1 185.65L111.3 185.59L114.5 185.53L117.8 185.47L121.0 185.42L124.2 185.37L127.5 185.33L130.7 185.29L133.9 185.25L137.2 185.21L169.5 184.96L201.8 184.80L234.1 184.70L255.6 184.64"/>
<path stroke="#7E2F8E" d="M41.28 198.45L42.35 217.90L43.43 213.89L44.5 208.00L45.6 203.83L46.7 200.62L47.7 198.14L48.8 196.65L49.9 195.44L51.0 194.45L52.0 193.56L53.1 192.71L54.2 191.99L55.3 191.37L56.4 190.84L57.4 190.37L58.5 189.96L59.6 189.59L60.7 189.27L61.7 188.98L62.8 188.72L63.9 188.50L65.0 188.33L66.1 188.17L67.1 188.03L68.2 187.89L69.3 187.77L70.4 187.65L71.4 187.55L72.5 187.45L75.7 187.18L79.0 186.96L82.2 186.77L85.4 186.61L88.7 186.47L91.9 186.34L95.1 186.23L98.4 186.13L101.6 186.04L104.8 185.97L108.1 185.89L111.3 185.83L114.5 185.77L117.8 185.71L121.0 185.66L124.2 185.62L127.5 185.57L130.7 185.53L133.9 185.49L137.2 185.46L169.5 185.20L201.8 185.05L234.1 184.95L255.6 184.89"/>
<path stroke="#77AC30" d="M41.28 44.10L42.35 217.90L43.43 213.82L44.5 207.82L45.6 203.58L46.7 200.31L47.7 197.78L48.8 196.26L49.9 195.04L51.0 194.02L52.0 193.13L53.1 192.26L54.2 191.52L55.3 190.89L56.4 190.35L57.4 189.87L58.5 189.45L59.6 189.08L60.7 188.75L61.7 188.46L62.8 188.19L63.9 187.97L65.0 187.79L66.1 187.63L67.1 187.49L68.2 187.35L69.3 187.23L70.4 187.11L71.4 187.00L72.5 186.90L75.7 186.63L79.0 186.40L82.2 186.21L85.4 186.04L88.7 185.90L91.9 185.77L95.1 185.66L98.4 185.56L101.6 185.47L104.8 185.39L108.1 185.32L111.3 185.25L114.5 185.19L117.8 185.13L121.0 185.08L124.2 185.03L127.5 184.99L130.7 184.95L133.9 184.91L137.2 184.87L169.5 184.61L201.8 184.46L234.1 184.35L255.6 184.30"/>
<path stroke="#4DBEEE" d="M41.28 135.97L42.35 217.90L43.43 213.85L44.5 207.91L45.6 203.70L46.7 200.46L47.7 197.96L48.8 196.45L49.9 195.23L51.0 194.23L52.0 193.34L53.1 192.48L54.2 191.75L55.3 191.13L56.4 190.59L57.4 190.11L58.5 189.70L59.6 189.33L60.7 189.01L61.7 188.71L62.8 188.45L63.9 188.22L65.0 188.05L66.1 187.90L67.1 187.75L68.2 187.62L69.3 187.49L70.4 187.38L71.4 187.27L72.5 187.17L75.7 186.90L79.0 186.67L82.2 186.48L85.4 186.32L88.7 186.17L91.9 186.05L95.1 185.94L98.4 185.84L101.6 185.75L104.8 185.67L108.1 185.60L111.3 185.53L114.5 185.47L117.8 185.42L121.0 185.36L124.2 185.32L127.5 185.27L130.7 185.23L133.9 185.20L137.2 185.16L169.5 184.90L201.8 184.75L234.1 184.64L255.6 184.59"/>
<path stroke="#A2142F" d="M41.28 126.86L42.35 217.90L43.43 213.90L44.5 208.01L45.6 203.85L46.7 200.64L47.7 198.16L48.8 196.67L49.9 195.46L51.0 194.47L52.0 193.59L53.1 192.74L54.2 192.02L55.3 191.40L56.4 190.86L57.4 190.40L58.5 189.98L59.6 189.62L60.7 189.30L61.7 189.01L62.8 188.75L63.9 188.52L65.0 188.35L66.1 188.20L67.1 188.06L68.2 187.92L69.3 187.80L70.4 187.68L71.4 187.58L72.5 187.48L75.7 187.21L79.0 186.99L82.2 186.80L85.4 186.64L88.7 186.50L91.9 186.37L95.1 186.26L98.4 186.16L101.6 186.08L104.8 186.00L108.1 185.92L111.3 185.86L114.5 185.80L117.8 185.74L121.0 185.69L124.2 185.65L127.5 185.60L130.7 185.56L133.9 185.53L137.2 185.49L169.5 185.23L201.8 185.08L234.1 184.98L255.6 184.92"/>
<path stroke="#0072BD" d="M41.28 78.66L42.35 217.90L43.43 212.99L44.5 206.43L45.6 201.92L46.7 198.55L47.7 196.31L48.8 194.80L49.9 193.59L51.0 192.56L52.0 191.56L53.1 190.74L54.2 190.04L55.3 189.45L56.4 188.94L57.4 188.49L58.5 188.10L59.6 187.76L60.7 187.45L61.7 187.20L62.8 187.01L63.9 186.83L65.0 186.67L66.1 186.52L67.1 186.38L68.2 186.25L69.3 186.14L70.4 186.03L71.4 185.92L72.5 185.83L75.7 185.58L79.0 185.37L82.2 185.19L85.4 185.03L88.7 184.90L91.9 184.78L95.1 184.68L98.4 184.58L101.6 184.50L104.8 184.43L108.1 184.36L111.3 184.30L114.5 184.24L117.8 184.19L121.0 184.14L124.2 184.10L127.5 184.06L130.7 184.02L133.9 183.98L137.2 183.95L169.5 183.71L201.8 183.57L234.1 183.47L255.6 183.42"/>
<path stroke="#D95319" d="M41.28 107.00L42.35 217.90L43.43 213.76L44.5 207.68L45.6 203.38L46.7 200.07L47.7 197.51L48.8 195.97L49.9 194.72L51.0 193.70L52.0 192.79L53.1 191.91L54.2 191.17L55.3 190.53L56.4 189.97L57.4 189.49L58.5 189.07L59.6 188.69L60.7 188.36L61.7 188.06L62.8 187.79L63.9 187.56L65.0 187.38L66.1 187.22L67.1 187.07L68.2 186.94L69.3 186.81L70.4 186.69L71.4 186.58L72.5 186.48L75.7 186.20L79.0 185.97L82.2 185.78L85.4 185.61L88.7 185.46L91.9 185.33L95.1 185.22L98.4 185.12L101.6 185.03L104.8 184.95L108.1 184.87L111.3 184.80L114.5 184.74L117.8 184.69L121.0 184.63L124.2 184.59L127.5 184.54L130.7 184.50L133.9 184.46L137.2 184.42L169.5 184.16L201.8 184.00L234.1 183.89L255.6 183.84"/>
<path stroke="#EDB120" d="M41.28 180.66L42.35 217.90L43.43 213.79L44.5 207.74L45.6 203.47L46.7 200.18L47.7 197.63L48.8 196.10L49.9 194.87L51.0 193.85L52.0 192.94L53.1 192.07L54.2 191.33L55.3 190.69L56.4 190.14L57.4 189.66L58.5 189.24L59.6 188.87L60.7 188.54L61.7 188.24L62.8 187.97L63.9 187.74L65.0 187.57L66.1 187.41L67.1 187.26L68.2 187.13L69.3 187.00L70.4 186.88L71.4 186.77L72.5 186.67L75.7 186.40L79.0 186.17L82.2 185.97L85.4 185.81L88.7 185.66L91.9 185.53L95.1 185.42L98.4 185.32L101.6 185.23L104.8 185.15L108.1 185.08L111.3 185.01L114.5 184.95L117.8 184.89L121.0 184.84L124.2 184.79L127.5 184.75L130.7 184.70L133.9 184.67L137.2 184.63L169.5 184.37L201.8 184.21L234.1 184.10L255.6 184.05"/>
<path stroke="#7E2F8E" d="M41.28 203.00L42.35 217.90L43.43 213.91L44.5 208.04L45.6 203.90L46.7 200.70L47.7 198.23L48.8 196.75L49.9 195.54L51.0 194.56L52.0 193.68L53.1 192.83L54.2 192.11L55.3 191.50L56.4 190.96L57.4 190.50L58.5 190.09L59.6 189.73L60.7 189.40L61.7 189.12L62.8 188.86L63.9 188.63L65.0 188.46L66.1 188.31L67.1 188.17L68.2 188.03L69.3 187.91L70.4 187.80L71.4 187.69L72.5 187.59L75.7 187.32L79.0 187.10L82.2 186.91L85.4 186.75L88.7 186.61L91.9 186.49L95.1 186.38L98.4 186.28L101.6 186.19L104.8 186.11L108.1 186.04L111.3 185.98L114.5 185.92L117.8 185.86L121.0 185.81L124.2 185.77L127.5 185.72L130.7 185.68L133.9 185.65L137.2 185.61L169.5 185.36L201.8 185.20L234.1 185.10L255.6 185.05"/>
<path stroke="#77AC30" d="M41.28 192.04L42.35 217.90L43.43 213.83L44.5 207.86L45.6 203.63L46.7 200.37L47.7 197.86L48.8 196.34L49.9 195.12L51.0 194.11L52.0 193.22L53.1 192.36L54.2 191.62L55.3 191.00L56.4 190.45L57.4 189.98L58.5 189.56L59.6 189.19L60.7 188.86L61.7 188.57L62.8 188.31L63.9 188.08L65.0 187.91L66.1 187.75L67.1 187.60L68.2 187.47L69.3 187.34L70.4 187.22L71.4 187.12L72.5 187.01L75.7 186.74L79.0 186.52L82.2 186.33L85.4 186.16L88.7 186.02L91.9 185.89L95.1 185.78L98.4 185.68L101.6 185.59L104.8 185.51L108.1 185.44L111.3 185.37L114.5 185.31L117.8 185.26L121.0 185.20L124.2 185.16L127.5 185.11L130.7 185.07L133.9 185.03L137.2 185.00L169.5 184.74L201.8 184.58L234.1 184.48L255.6 184.42"/>
<path stroke="#4DBEEE" d="M41.28 145.49L42.35 217.90L43.43 213.70L44.5 207.53L45.6 203.17L46.7 199.81L47.7 197.21L48.8 195.65L49.9 194.39L51.0 193.35L52.0 192.43L53.1 191.53L54.2 190.78L55.3 190.13L56.4 189.57L57.4 189.08L58.5 188.65L59.6 188.27L60.7 187.93L61.7 187.63L62.8 187.35L63.9 187.12L65.0 186.94L66.1 186.78L67.1 186.63L68.2 186.49L69.3 186.36L70.4 186.24L71.4 186.13L72.5 186.02L75.7 185.74L79.0 185.51L82.2 185.31L85.4 185.14L88.7 184.99L91.9 184.86L95.1 184.75L98.4 184.65L101.6 184.55L104.8 184.47L108.1 184.39L111.3 184.33L114.5 184.26L117.8 184.21L121.0 184.15L124.2 184.10L127.5 184.06L130.7 184.02L133.9 183.98L137.2 183.94L169.5 183.67L201.8 183.51L234.1 183.40L255.6 183.35"/>
<path stroke="#A2142F" d="M41.28 123.14L42.35 217.90L43.43 213.98L44.5 208.20L45.6 204.13L46.7 200.98L47.7 198.55L48.8 197.09L49.9 195.91L51.0 194.94L52.0 194.07L53.1 193.24L54.2 192.53L55.3 191.93L56.4 191.40L57.4 190.94L58.5 190.54L59.6 190.19L60.7 189.87L61.7 189.59L62.8 189.33L63.9 189.11L65.0 188.94L66.1 188.79L67.1 188.65L68.2 188.52L69.3 188.40L70.4 188.29L71.4 188.18L72.5 188.08L75.7 187.82L79.0 187.60L82.2 187.42L85.4 187.26L88.7 187.12L91.9 187.00L95.1 186.89L98.4 186.80L101.6 186.71L104.8 186.63L108.1 186.56L111.3 186.50L114.5 186.44L117.8 186.39L121.0 186.34L124.2 186.29L127.5 186.25L130.7 186.21L133.9 186.17L137.2 186.14L169.5 185.89L201.8 185.73L234.1 185.63L255.6 185.58"/>
<path stroke="#0072BD" d="M41.28 114.45L42.35 217.90L43.43 212.64L44.5 204.91L45.6 199.45L46.7 195.24L47.7 191.99L48.8 190.03L49.9 188.45L51.0 187.14L52.0 185.99L53.1 184.87L54.2 183.93L55.3 183.11L56.4 182.41L57.4 181.80L58.5 181.26L59.6 180.78L60.7 180.36L61.7 179.98L62.8 179.64L63.9 179.34L65.0 179.12L66.1 178.91L67.1 178.73L68.2 178.55L69.3 178.39L70.4 178.24L71.4 178.10L72.5 177.97L75.7 177.62L79.0 177.33L82.2 177.08L85.4 176.86L88.7 176.68L91.9 176.51L95.1 176.37L98.4 176.24L101.6 176.13L104.8 176.02L108.1 175.93L111.3 175.84L114.5 175.76L117.8 175.69L121.0 175.63L124.2 175.56L127.5 175.51L130.7 175.45L133.9 175.40L137.2 175.36L169.5 175.02L201.8 174.82L234.1 174.68L255.6 174.62"/>
</g>
<rect x="324.4" y="11.0" width="216.20" height="206.90" fill="none" stroke="#6e6e6e" stroke-width="1"/>
<path d="M324.40 217.9v-2.2M324.40 11.0v2.2" stroke="#4a4a4a" stroke-width="1" fill="none"/>
<text x="324.20" y="231.1" font-size="9" text-anchor="middle" fill="#333">0</text>
<path d="M367.64 217.9v-2.2M367.64 11.0v2.2" stroke="#4a4a4a" stroke-width="1" fill="none"/>
<text x="367.44" y="231.1" font-size="9" text-anchor="middle" fill="#333">0.02</text>
<path d="M410.88 217.9v-2.2M410.88 11.0v2.2" stroke="#4a4a4a" stroke-width="1" fill="none"/>
<text x="410.68" y="231.1" font-size="9" text-anchor="middle" fill="#333">0.04</text>
<path d="M454.12 217.9v-2.2M454.12 11.0v2.2" stroke="#4a4a4a" stroke-width="1" fill="none"/>
<text x="453.92" y="231.1" font-size="9" text-anchor="middle" fill="#333">0.06</text>
<path d="M497.36 217.9v-2.2M497.36 11.0v2.2" stroke="#4a4a4a" stroke-width="1" fill="none"/>
<text x="497.16" y="231.1" font-size="9" text-anchor="middle" fill="#333">0.08</text>
<path d="M540.60 217.9v-2.2M540.60 11.0v2.2" stroke="#4a4a4a" stroke-width="1" fill="none"/>
<text x="540.40" y="231.1" font-size="9" text-anchor="middle" fill="#333">0.1</text>
<path d="M324.4 217.90h2.2M540.6 217.90h-2.2" stroke="#4a4a4a" stroke-width="1" fill="none"/>
<text x="320.20" y="221.40" font-size="9" text-anchor="end" fill="#333">0</text>
<path d="M324.4 176.52h2.2M540.6 176.52h-2.2" stroke="#4a4a4a" stroke-width="1" fill="none"/>
<text x="320.20" y="180.02" font-size="9" text-anchor="end" fill="#333">0.2</text>
<path d="M324.4 135.14h2.2M540.6 135.14h-2.2" stroke="#4a4a4a" stroke-width="1" fill="none"/>
<text x="320.20" y="138.64" font-size="9" text-anchor="end" fill="#333">0.4</text>
<path d="M324.4 93.76h2.2M540.6 93.76h-2.2" stroke="#4a4a4a" stroke-width="1" fill="none"/>
<text x="320.20" y="97.26" font-size="9" text-anchor="end" fill="#333">0.6</text>
<path d="M324.4 52.38h2.2M540.6 52.38h-2.2" stroke="#4a4a4a" stroke-width="1" fill="none"/>
<text x="320.20" y="55.88" font-size="9" text-anchor="end" fill="#333">0.8</text>
<path d="M324.4 11.00h2.2M540.6 11.00h-2.2" stroke="#4a4a4a" stroke-width="1" fill="none"/>
<text x="320.20" y="14.50" font-size="9" text-anchor="end" fill="#333">1</text>
<text x="432.20" y="244.9" font-size="10.3" text-anchor="middle" fill="#333">Time(sec)</text>
<text transform="translate(297.50 114.65) rotate(-90)" font-size="10" text-anchor="middle" fill="#333">x<tspan font-size="7" dy="5.3">1</tspan><tspan dy="-5.3">-x</tspan><tspan font-size="7" dy="5.3">50</tspan></text>
<g fill="none" stroke-width="1.95" stroke-linejoin="round" stroke-linecap="butt">
<path stroke="#0072BD" d="M324.40 41.00L350.91 217.90L356.83 213.89L358.5 207.99L360.1 203.82L361.5 200.61L362.9 198.13L364.2 196.63L365.4 195.43L366.6 194.43L367.8 193.55L368.8 192.70L369.9 191.98L370.9 191.36L371.8 190.82L372.8 190.35L373.7 189.94L374.6 189.58L375.5 189.25L376.3 188.96L377.2 188.70L378.0 188.48L378.8 188.31L379.6 188.15L380.4 188.01L381.2 187.87L382.0 187.75L382.8 187.64L383.6 187.53L384.3 187.43L386.6 187.16L388.9 186.94L391.1 186.75L393.4 186.59L395.6 186.44L397.8 186.32L400.0 186.21L402.2 186.11L404.4 186.02L406.6 185.94L408.8 185.87L411.0 185.81L413.2 185.75L415.4 185.69L417.6 185.64L419.8 185.59L422.0 185.55L424.2 185.51L426.4 185.47L428.6 185.44L450.6 185.18L472.6 185.03L494.6 184.92L509.3 184.87"/>
<path stroke="#D95319" d="M324.40 80.31L350.91 217.90L356.83 213.94L358.5 208.10L360.1 203.99L361.5 200.81L362.9 198.35L364.2 196.88L365.4 195.68L366.6 194.70L367.8 193.83L368.8 192.99L369.9 192.27L370.9 191.66L371.8 191.13L372.8 190.67L373.7 190.26L374.6 189.90L375.5 189.58L376.3 189.30L377.2 189.04L378.0 188.81L378.8 188.65L379.6 188.49L380.4 188.35L381.2 188.22L382.0 188.10L382.8 187.98L383.6 187.88L384.3 187.78L386.6 187.51L388.9 187.29L391.1 187.11L393.4 186.95L395.6 186.81L397.8 186.68L400.0 186.57L402.2 186.48L404.4 186.39L406.6 186.31L408.8 186.24L411.0 186.18L413.2 186.12L415.4 186.06L417.6 186.01L419.8 185.97L422.0 185.92L424.2 185.88L426.4 185.85L428.6 185.81L450.6 185.56L472.6 185.41L494.6 185.30L509.3 185.25"/>
<path stroke="#EDB120" d="M324.40 26.72L350.91 217.90L356.83 213.80L358.5 207.78L360.1 203.52L361.5 200.23L362.9 197.70L364.2 196.17L365.4 194.94L366.6 193.92L367.8 193.02L368.8 192.15L369.9 191.41L370.9 190.78L371.8 190.23L372.8 189.75L373.7 189.33L374.6 188.96L375.5 188.63L376.3 188.33L377.2 188.07L378.0 187.84L378.8 187.66L379.6 187.51L380.4 187.36L381.2 187.22L382.0 187.10L382.8 186.98L383.6 186.87L384.3 186.77L386.6 186.49L388.9 186.27L391.1 186.07L393.4 185.91L395.6 185.76L397.8 185.63L400.0 185.52L402.2 185.42L404.4 185.33L406.6 185.25L408.8 185.18L411.0 185.11L413.2 185.05L415.4 184.99L417.6 184.94L419.8 184.89L422.0 184.85L424.2 184.81L426.4 184.77L428.6 184.73L450.6 184.47L472.6 184.31L494.6 184.21L509.3 184.15"/>
<path stroke="#7E2F8E" d="M324.40 78.24L350.91 217.90L356.83 213.96L358.5 208.16L360.1 204.06L361.5 200.90L362.9 198.46L364.2 196.99L365.4 195.80L366.6 194.82L367.8 193.96L368.8 193.12L369.9 192.41L370.9 191.80L371.8 191.27L372.8 190.81L373.7 190.41L374.6 190.05L375.5 189.73L376.3 189.45L377.2 189.19L378.0 188.97L378.8 188.80L379.6 188.65L380.4 188.51L381.2 188.38L382.0 188.25L382.8 188.14L383.6 188.04L384.3 187.94L386.6 187.67L388.9 187.46L391.1 187.27L393.4 187.11L395.6 186.97L397.8 186.85L400.0 186.74L402.2 186.64L404.4 186.56L406.6 186.48L408.8 186.41L411.0 186.34L413.2 186.28L415.4 186.23L417.6 186.18L419.8 186.13L422.0 186.09L424.2 186.05L426.4 186.01L428.6 185.98L450.6 185.73L472.6 185.58L494.6 185.47L509.3 185.42"/>
<path stroke="#77AC30" d="M324.40 162.04L350.91 217.90L356.83 213.83L358.5 207.85L360.1 203.63L361.5 200.36L362.9 197.85L364.2 196.33L365.4 195.11L366.6 194.10L367.8 193.21L368.8 192.34L369.9 191.61L370.9 190.98L371.8 190.44L372.8 189.96L373.7 189.55L374.6 189.18L375.5 188.85L376.3 188.56L377.2 188.29L378.0 188.06L378.8 187.89L379.6 187.73L380.4 187.59L381.2 187.45L382.0 187.33L382.8 187.21L383.6 187.10L384.3 187.00L386.6 186.73L388.9 186.50L391.1 186.31L393.4 186.15L395.6 186.00L397.8 185.88L400.0 185.76L402.2 185.66L404.4 185.58L406.6 185.49L408.8 185.42L411.0 185.36L413.2 185.29L415.4 185.24L417.6 185.19L419.8 185.14L422.0 185.10L424.2 185.06L426.4 185.02L428.6 184.98L450.6 184.72L472.6 184.56L494.6 184.46L509.3 184.41"/>
<path stroke="#4DBEEE" d="M324.40 138.24L350.91 217.90L356.83 213.88L358.5 207.96L360.1 203.79L361.5 200.56L362.9 198.07L364.2 196.57L365.4 195.36L366.6 194.37L367.8 193.48L368.8 192.63L369.9 191.90L370.9 191.28L371.8 190.74L372.8 190.27L373.7 189.86L374.6 189.50L375.5 189.17L376.3 188.88L377.2 188.62L378.0 188.39L378.8 188.22L379.6 188.07L380.4 187.92L381.2 187.79L382.0 187.67L382.8 187.55L383.6 187.44L384.3 187.34L386.6 187.08L388.9 186.85L391.1 186.66L393.4 186.50L395.6 186.36L397.8 186.23L400.0 186.12L402.2 186.02L404.4 185.94L406.6 185.86L408.8 185.78L411.0 185.72L413.2 185.66L415.4 185.60L417.6 185.55L419.8 185.51L422.0 185.46L424.2 185.42L426.4 185.38L428.6 185.35L450.6 185.09L472.6 184.94L494.6 184.83L509.3 184.78"/>
<path stroke="#A2142F" d="M324.40 128.93L350.91 217.90L356.83 213.96L358.5 208.17L360.1 204.07L361.5 200.91L362.9 198.48L364.2 197.01L365.4 195.82L366.6 194.85L367.8 193.98L368.8 193.14L369.9 192.43L370.9 191.82L371.8 191.30L372.8 190.84L373.7 190.43L374.6 190.08L375.5 189.76L376.3 189.47L377.2 189.22L378.0 189.00L378.8 188.83L379.6 188.68L380.4 188.54L381.2 188.40L382.0 188.28L382.8 188.17L383.6 188.06L384.3 187.97L386.6 187.70L388.9 187.49L391.1 187.30L393.4 187.14L395.6 187.00L397.8 186.88L400.0 186.77L402.2 186.67L404.4 186.59L406.6 186.51L408.8 186.44L411.0 186.37L413.2 186.32L415.4 186.26L417.6 186.21L419.8 186.17L422.0 186.12L424.2 186.08L426.4 186.05L428.6 186.01L450.6 185.76L472.6 185.61L494.6 185.51L509.3 185.46"/>
<path stroke="#0072BD" d="M324.40 186.87L350.91 217.90L356.83 213.84L358.5 207.87L360.1 203.65L361.5 200.40L362.9 197.89L364.2 196.37L365.4 195.15L366.6 194.15L367.8 193.25L368.8 192.39L369.9 191.66L370.9 191.03L371.8 190.49L372.8 190.02L373.7 189.60L374.6 189.23L375.5 188.90L376.3 188.61L377.2 188.35L378.0 188.12L378.8 187.95L379.6 187.79L380.4 187.64L381.2 187.51L382.0 187.38L382.8 187.27L383.6 187.16L384.3 187.06L386.6 186.79L388.9 186.56L391.1 186.37L393.4 186.20L395.6 186.06L397.8 185.94L400.0 185.82L402.2 185.72L404.4 185.64L406.6 185.56L408.8 185.48L411.0 185.42L413.2 185.36L415.4 185.30L417.6 185.25L419.8 185.20L422.0 185.16L424.2 185.12L426.4 185.08L428.6 185.04L450.6 184.78L472.6 184.63L494.6 184.52L509.3 184.47"/>
<path stroke="#D95319" d="M324.40 200.31L350.91 217.90L356.83 213.97L358.5 208.18L360.1 204.09L361.5 200.94L362.9 198.50L364.2 197.04L365.4 195.85L366.6 194.88L367.8 194.01L368.8 193.18L369.9 192.47L370.9 191.86L371.8 191.33L372.8 190.88L373.7 190.47L374.6 190.11L375.5 189.80L376.3 189.51L377.2 189.26L378.0 189.04L378.8 188.87L379.6 188.72L380.4 188.58L381.2 188.45L382.0 188.32L382.8 188.21L383.6 188.11L384.3 188.01L386.6 187.75L388.9 187.53L391.1 187.34L393.4 187.18L395.6 187.04L397.8 186.92L400.0 186.81L402.2 186.72L404.4 186.63L406.6 186.55L408.8 186.48L411.0 186.42L413.2 186.36L415.4 186.30L417.6 186.26L419.8 186.21L422.0 186.17L424.2 186.13L426.4 186.09L428.6 186.06L450.6 185.80L472.6 185.65L494.6 185.55L509.3 185.50"/>
<path stroke="#EDB120" d="M324.40 148.17L350.91 217.90L356.83 213.86L358.5 207.92L360.1 203.72L361.5 200.48L362.9 197.98L364.2 196.48L365.4 195.26L366.6 194.26L367.8 193.37L368.8 192.51L369.9 191.79L370.9 191.16L371.8 190.62L372.8 190.15L373.7 189.74L374.6 189.37L375.5 189.04L376.3 188.75L377.2 188.49L378.0 188.26L378.8 188.09L379.6 187.93L380.4 187.79L381.2 187.66L382.0 187.53L382.8 187.41L383.6 187.31L384.3 187.21L386.6 186.94L388.9 186.71L391.1 186.52L393.4 186.36L395.6 186.22L397.8 186.09L400.0 185.98L402.2 185.88L404.4 185.79L406.6 185.71L408.8 185.64L411.0 185.57L413.2 185.51L415.4 185.46L417.6 185.41L419.8 185.36L422.0 185.32L424.2 185.27L426.4 185.24L428.6 185.20L450.6 184.94L472.6 184.79L494.6 184.68L509.3 184.63"/>
<path stroke="#7E2F8E" d="M324.40 75.14L350.91 217.90L356.83 213.96L358.5 208.16L360.1 204.06L361.5 200.90L362.9 198.46L364.2 196.99L365.4 195.80L366.6 194.83L367.8 193.96L368.8 193.12L369.9 192.41L370.9 191.80L371.8 191.28L372.8 190.82L373.7 190.41L374.6 190.05L375.5 189.74L376.3 189.45L377.2 189.19L378.0 188.97L378.8 188.81L379.6 188.65L380.4 188.51L381.2 188.38L382.0 188.26L382.8 188.15L383.6 188.04L384.3 187.94L386.6 187.68L388.9 187.46L391.1 187.28L393.4 187.11L395.6 186.98L397.8 186.85L400.0 186.74L402.2 186.65L404.4 186.56L406.6 186.48L408.8 186.41L411.0 186.35L413.2 186.29L415.4 186.24L417.6 186.19L419.8 186.14L422.0 186.10L424.2 186.06L426.4 186.02L428.6 185.99L450.6 185.73L472.6 185.58L494.6 185.48L509.3 185.43"/>
<path stroke="#77AC30" d="M324.40 157.69L350.91 217.90L356.83 213.95L358.5 208.14L360.1 204.04L361.5 200.88L362.9 198.43L364.2 196.96L365.4 195.77L366.6 194.79L367.8 193.93L368.8 193.09L369.9 192.38L370.9 191.77L371.8 191.24L372.8 190.78L373.7 190.37L374.6 190.01L375.5 189.70L376.3 189.41L377.2 189.15L378.0 188.93L378.8 188.77L379.6 188.61L380.4 188.47L381.2 188.34L382.0 188.22L382.8 188.10L383.6 188.00L384.3 187.90L386.6 187.64L388.9 187.42L391.1 187.23L393.4 187.07L395.6 186.93L397.8 186.81L400.0 186.70L402.2 186.60L404.4 186.52L406.6 186.44L408.8 186.37L411.0 186.30L413.2 186.25L415.4 186.19L417.6 186.14L419.8 186.10L422.0 186.05L424.2 186.01L426.4 185.98L428.6 185.94L450.6 185.69L472.6 185.54L494.6 185.43L509.3 185.38"/>
<path stroke="#4DBEEE" d="M324.40 143.42L350.91 217.90L356.83 213.86L358.5 207.92L360.1 203.73L361.5 200.49L362.9 198.00L364.2 196.49L365.4 195.28L366.6 194.27L367.8 193.39L368.8 192.53L369.9 191.80L370.9 191.18L371.8 190.64L372.8 190.17L373.7 189.75L374.6 189.39L375.5 189.06L376.3 188.77L377.2 188.51L378.0 188.28L378.8 188.11L379.6 187.95L380.4 187.81L381.2 187.67L382.0 187.55L382.8 187.43L383.6 187.33L384.3 187.22L386.6 186.96L388.9 186.73L391.1 186.54L393.4 186.38L395.6 186.23L397.8 186.11L400.0 186.00L402.2 185.90L404.4 185.81L406.6 185.73L408.8 185.66L411.0 185.59L413.2 185.53L415.4 185.48L417.6 185.43L419.8 185.38L422.0 185.34L424.2 185.29L426.4 185.26L428.6 185.22L450.6 184.96L472.6 184.81L494.6 184.70L509.3 184.65"/>
<path stroke="#A2142F" d="M324.40 214.18L350.91 217.90L356.83 213.76L358.5 207.66L360.1 203.35L361.5 200.03L362.9 197.47L364.2 195.92L365.4 194.68L366.6 193.65L367.8 192.74L368.8 191.86L369.9 191.11L370.9 190.47L371.8 189.91L372.8 189.43L373.7 189.01L374.6 188.63L375.5 188.30L376.3 188.00L377.2 187.73L378.0 187.49L378.8 187.32L379.6 187.16L380.4 187.01L381.2 186.87L382.0 186.74L382.8 186.62L383.6 186.51L384.3 186.41L386.6 186.14L388.9 185.90L391.1 185.71L393.4 185.54L395.6 185.39L397.8 185.27L400.0 185.15L402.2 185.05L404.4 184.96L406.6 184.88L408.8 184.80L411.0 184.74L413.2 184.67L415.4 184.62L417.6 184.56L419.8 184.52L422.0 184.47L424.2 184.43L426.4 184.39L428.6 184.35L450.6 184.09L472.6 183.93L494.6 183.82L509.3 183.77"/>
<path stroke="#0072BD" d="M324.40 15.14L350.91 217.90L356.83 213.94L358.5 208.12L360.1 204.01L361.5 200.84L362.9 198.39L364.2 196.92L365.4 195.72L366.6 194.74L367.8 193.87L368.8 193.03L369.9 192.32L370.9 191.71L371.8 191.18L372.8 190.72L373.7 190.31L374.6 189.95L375.5 189.63L376.3 189.35L377.2 189.09L378.0 188.87L378.8 188.70L379.6 188.55L380.4 188.40L381.2 188.27L382.0 188.15L382.8 188.04L383.6 187.93L384.3 187.83L386.6 187.57L388.9 187.35L391.1 187.16L393.4 187.00L395.6 186.86L397.8 186.74L400.0 186.63L402.2 186.53L404.4 186.45L406.6 186.37L408.8 186.30L411.0 186.23L413.2 186.17L415.4 186.12L417.6 186.07L419.8 186.02L422.0 185.98L424.2 185.94L426.4 185.90L428.6 185.87L450.6 185.62L472.6 185.46L494.6 185.36L509.3 185.31"/>
<path stroke="#D95319" d="M324.40 170.31L350.91 217.90L356.83 213.92L358.5 208.06L360.1 203.92L361.5 200.72L362.9 198.26L364.2 196.77L365.4 195.58L366.6 194.59L367.8 193.71L368.8 192.87L369.9 192.15L370.9 191.53L371.8 191.00L372.8 190.54L373.7 190.13L374.6 189.77L375.5 189.44L376.3 189.16L377.2 188.90L378.0 188.67L378.8 188.50L379.6 188.35L380.4 188.21L381.2 188.07L382.0 187.95L382.8 187.84L383.6 187.73L384.3 187.63L386.6 187.37L388.9 187.15L391.1 186.96L393.4 186.80L395.6 186.66L397.8 186.53L400.0 186.42L402.2 186.32L404.4 186.24L406.6 186.16L408.8 186.09L411.0 186.02L413.2 185.96L415.4 185.91L417.6 185.86L419.8 185.81L422.0 185.77L424.2 185.73L426.4 185.69L428.6 185.66L450.6 185.40L472.6 185.25L494.6 185.14L509.3 185.09"/>
<path stroke="#EDB120" d="M324.40 99.55L350.91 217.90L356.83 213.81L358.5 207.79L360.1 203.54L361.5 200.26L362.9 197.73L364.2 196.20L365.4 194.97L366.6 193.96L367.8 193.06L368.8 192.19L369.9 191.45L370.9 190.82L371.8 190.27L372.8 189.80L373.7 189.38L374.6 189.01L375.5 188.67L376.3 188.38L377.2 188.11L378.0 187.88L378.8 187.71L379.6 187.55L380.4 187.40L381.2 187.27L382.0 187.14L382.8 187.03L383.6 186.92L384.3 186.81L386.6 186.54L388.9 186.31L391.1 186.12L393.4 185.96L395.6 185.81L397.8 185.68L400.0 185.57L402.2 185.47L404.4 185.38L406.6 185.30L408.8 185.23L411.0 185.16L413.2 185.10L415.4 185.04L417.6 184.99L419.8 184.94L422.0 184.90L424.2 184.86L426.4 184.82L428.6 184.78L450.6 184.52L472.6 184.37L494.6 184.26L509.3 184.21"/>
<path stroke="#7E2F8E" d="M324.40 22.17L350.91 217.90L356.83 213.72L358.5 207.58L360.1 203.24L361.5 199.89L362.9 197.31L364.2 195.75L365.4 194.49L366.6 193.46L367.8 192.54L368.8 191.65L369.9 190.90L370.9 190.26L371.8 189.70L372.8 189.21L373.7 188.78L374.6 188.40L375.5 188.07L376.3 187.76L377.2 187.49L378.0 187.26L378.8 187.08L379.6 186.92L380.4 186.77L381.2 186.63L382.0 186.50L382.8 186.38L383.6 186.27L384.3 186.17L386.6 185.89L388.9 185.66L391.1 185.46L393.4 185.29L395.6 185.14L397.8 185.01L400.0 184.90L402.2 184.80L404.4 184.70L406.6 184.62L408.8 184.55L411.0 184.48L413.2 184.42L415.4 184.36L417.6 184.31L419.8 184.26L422.0 184.21L424.2 184.17L426.4 184.13L428.6 184.09L450.6 183.83L472.6 183.67L494.6 183.56L509.3 183.50"/>
<path stroke="#77AC30" d="M324.40 215.00L350.91 217.90L356.83 213.82L358.5 207.82L360.1 203.59L361.5 200.32L362.9 197.79L364.2 196.28L365.4 195.05L366.6 194.04L367.8 193.14L368.8 192.27L369.9 191.54L370.9 190.91L371.8 190.36L372.8 189.89L373.7 189.47L374.6 189.10L375.5 188.77L376.3 188.48L377.2 188.21L378.0 187.98L378.8 187.81L379.6 187.65L380.4 187.50L381.2 187.37L382.0 187.24L382.8 187.13L383.6 187.02L384.3 186.92L386.6 186.64L388.9 186.42L391.1 186.23L393.4 186.06L395.6 185.92L397.8 185.79L400.0 185.68L402.2 185.58L404.4 185.49L406.6 185.41L408.8 185.33L411.0 185.27L413.2 185.21L415.4 185.15L417.6 185.10L419.8 185.05L422.0 185.01L424.2 184.97L426.4 184.93L428.6 184.89L450.6 184.63L472.6 184.47L494.6 184.37L509.3 184.32"/>
<path stroke="#4DBEEE" d="M324.40 140.31L350.91 217.90L356.83 213.87L358.5 207.94L360.1 203.76L361.5 200.52L362.9 198.03L364.2 196.53L365.4 195.32L366.6 194.32L367.8 193.43L368.8 192.58L369.9 191.85L370.9 191.23L371.8 190.69L372.8 190.22L373.7 189.80L374.6 189.44L375.5 189.11L376.3 188.82L377.2 188.56L378.0 188.33L378.8 188.16L379.6 188.01L380.4 187.86L381.2 187.73L382.0 187.60L382.8 187.49L383.6 187.38L384.3 187.28L386.6 187.01L388.9 186.79L391.1 186.60L393.4 186.44L395.6 186.29L397.8 186.17L400.0 186.06L402.2 185.96L404.4 185.87L406.6 185.79L408.8 185.72L411.0 185.65L413.2 185.59L415.4 185.54L417.6 185.49L419.8 185.44L422.0 185.40L424.2 185.35L426.4 185.32L428.6 185.28L450.6 185.02L472.6 184.87L494.6 184.76L509.3 184.71"/>
<path stroke="#A2142F" d="M324.40 216.87L350.91 217.90L356.83 213.72L358.5 207.56L360.1 203.21L361.5 199.86L362.9 197.27L364.2 195.71L365.4 194.45L366.6 193.41L367.8 192.49L368.8 191.61L369.9 190.85L370.9 190.21L371.8 189.65L372.8 189.16L373.7 188.73L374.6 188.35L375.5 188.01L376.3 187.71L377.2 187.44L378.0 187.20L378.8 187.03L379.6 186.86L380.4 186.71L381.2 186.57L382.0 186.44L382.8 186.32L383.6 186.21L384.3 186.11L386.6 185.83L388.9 185.60L391.1 185.40L393.4 185.23L395.6 185.08L397.8 184.95L400.0 184.84L402.2 184.74L404.4 184.64L406.6 184.56L408.8 184.49L411.0 184.42L413.2 184.35L415.4 184.30L417.6 184.24L419.8 184.20L422.0 184.15L424.2 184.11L426.4 184.07L428.6 184.03L450.6 183.76L472.6 183.60L494.6 183.50L509.3 183.44"/>
<path stroke="#0072BD" d="M324.40 151.28L350.91 217.90L356.83 213.96L358.5 208.17L360.1 204.08L361.5 200.93L362.9 198.49L364.2 197.02L365.4 195.84L366.6 194.86L367.8 194.00L368.8 193.16L369.9 192.45L370.9 191.84L371.8 191.32L372.8 190.86L373.7 190.45L374.6 190.10L375.5 189.78L376.3 189.50L377.2 189.24L378.0 189.02L378.8 188.85L379.6 188.70L380.4 188.56L381.2 188.43L382.0 188.31L382.8 188.19L383.6 188.09L384.3 187.99L386.6 187.73L388.9 187.51L391.1 187.32L393.4 187.16L395.6 187.02L397.8 186.90L400.0 186.79L402.2 186.70L404.4 186.61L406.6 186.53L408.8 186.46L411.0 186.40L413.2 186.34L415.4 186.29L417.6 186.24L419.8 186.19L422.0 186.15L424.2 186.11L426.4 186.07L428.6 186.04L450.6 185.78L472.6 185.63L494.6 185.53L509.3 185.48"/>
<path stroke="#D95319" d="M324.40 168.24L350.91 217.90L356.83 213.75L358.5 207.64L360.1 203.32L361.5 199.99L362.9 197.43L364.2 195.88L365.4 194.63L366.6 193.60L367.8 192.68L368.8 191.80L369.9 191.06L370.9 190.41L371.8 189.86L372.8 189.37L373.7 188.95L374.6 188.57L375.5 188.24L376.3 187.94L377.2 187.67L378.0 187.43L378.8 187.26L379.6 187.10L380.4 186.95L381.2 186.81L382.0 186.68L382.8 186.56L383.6 186.45L384.3 186.35L386.6 186.07L388.9 185.84L391.1 185.64L393.4 185.48L395.6 185.33L397.8 185.20L400.0 185.09L402.2 184.98L404.4 184.89L406.6 184.81L408.8 184.74L411.0 184.67L413.2 184.61L415.4 184.55L417.6 184.50L419.8 184.45L422.0 184.40L424.2 184.36L426.4 184.32L428.6 184.29L450.6 184.02L472.6 183.86L494.6 183.75L509.3 183.70"/>
<path stroke="#EDB120" d="M324.40 98.93L350.91 217.90L356.83 213.90L358.5 208.01L360.1 203.86L361.5 200.65L362.9 198.17L364.2 196.68L365.4 195.48L366.6 194.48L367.8 193.60L368.8 192.76L369.9 192.03L370.9 191.42L371.8 190.88L372.8 190.41L373.7 190.00L374.6 189.64L375.5 189.32L376.3 189.03L377.2 188.77L378.0 188.54L378.8 188.37L379.6 188.22L380.4 188.08L381.2 187.94L382.0 187.82L382.8 187.70L383.6 187.60L384.3 187.50L386.6 187.23L388.9 187.01L391.1 186.82L393.4 186.66L395.6 186.52L397.8 186.39L400.0 186.28L402.2 186.18L404.4 186.10L406.6 186.02L408.8 185.95L411.0 185.88L413.2 185.82L415.4 185.77L417.6 185.72L419.8 185.67L422.0 185.63L424.2 185.58L426.4 185.55L428.6 185.51L450.6 185.26L472.6 185.10L494.6 185.00L509.3 184.95"/>
<path stroke="#7E2F8E" d="M324.40 81.35L350.91 217.90L356.83 213.94L358.5 208.11L360.1 203.99L361.5 200.81L362.9 198.36L364.2 196.89L365.4 195.69L366.6 194.71L367.8 193.84L368.8 193.00L369.9 192.28L370.9 191.67L371.8 191.14L372.8 190.68L373.7 190.27L374.6 189.91L375.5 189.59L376.3 189.31L377.2 189.05L378.0 188.83L378.8 188.66L379.6 188.51L380.4 188.36L381.2 188.23L382.0 188.11L382.8 188.00L383.6 187.89L384.3 187.79L386.6 187.53L388.9 187.31L391.1 187.12L393.4 186.96L395.6 186.82L397.8 186.70L400.0 186.59L402.2 186.49L404.4 186.40L406.6 186.33L408.8 186.25L411.0 186.19L413.2 186.13L415.4 186.08L417.6 186.03L419.8 185.98L422.0 185.94L424.2 185.90L426.4 185.86L428.6 185.83L450.6 185.57L472.6 185.42L494.6 185.32L509.3 185.27"/>
<path stroke="#77AC30" d="M324.40 39.97L350.91 217.90L356.83 213.94L358.5 208.13L360.1 204.02L361.5 200.84L362.9 198.40L364.2 196.92L365.4 195.73L366.6 194.75L367.8 193.88L368.8 193.04L369.9 192.33L370.9 191.72L371.8 191.19L372.8 190.73L373.7 190.32L374.6 189.96L375.5 189.64L376.3 189.36L377.2 189.10L378.0 188.88L378.8 188.71L379.6 188.56L380.4 188.42L381.2 188.29L382.0 188.16L382.8 188.05L383.6 187.94L384.3 187.84L386.6 187.58L388.9 187.36L391.1 187.18L393.4 187.02L395.6 186.88L397.8 186.75L400.0 186.64L402.2 186.55L404.4 186.46L406.6 186.38L408.8 186.31L411.0 186.25L413.2 186.19L415.4 186.13L417.6 186.08L419.8 186.04L422.0 185.99L424.2 185.95L426.4 185.92L428.6 185.88L450.6 185.63L472.6 185.48L494.6 185.38L509.3 185.32"/>
<path stroke="#4DBEEE" d="M324.40 185.00L350.91 217.90L356.83 213.89L358.5 208.00L360.1 203.84L361.5 200.63L362.9 198.15L364.2 196.65L365.4 195.45L366.6 194.46L367.8 193.57L368.8 192.72L369.9 192.00L370.9 191.38L371.8 190.85L372.8 190.38L373.7 189.97L374.6 189.61L375.5 189.28L376.3 188.99L377.2 188.73L378.0 188.51L378.8 188.34L379.6 188.18L380.4 188.04L381.2 187.90L382.0 187.78L382.8 187.67L383.6 187.56L384.3 187.46L386.6 187.19L388.9 186.97L391.1 186.78L393.4 186.62L395.6 186.48L397.8 186.35L400.0 186.24L402.2 186.14L404.4 186.06L406.6 185.98L408.8 185.91L411.0 185.84L413.2 185.78L415.4 185.73L417.6 185.67L419.8 185.63L422.0 185.58L424.2 185.54L426.4 185.51L428.6 185.47L450.6 185.22L472.6 185.06L494.6 184.96L509.3 184.91"/>
<path stroke="#A2142F" d="M324.40 124.80L350.91 217.90L356.83 213.76L358.5 207.67L360.1 203.36L361.5 200.04L362.9 197.48L364.2 195.94L365.4 194.69L366.6 193.66L367.8 192.75L368.8 191.87L369.9 191.13L370.9 190.49L371.8 189.93L372.8 189.45L373.7 189.03L374.6 188.65L375.5 188.32L376.3 188.02L377.2 187.75L378.0 187.51L378.8 187.34L379.6 187.18L380.4 187.03L381.2 186.89L382.0 186.77L382.8 186.65L383.6 186.54L384.3 186.43L386.6 186.16L388.9 185.93L391.1 185.73L393.4 185.56L395.6 185.42L397.8 185.29L400.0 185.17L402.2 185.07L404.4 184.98L406.6 184.90L408.8 184.83L411.0 184.76L413.2 184.70L415.4 184.64L417.6 184.59L419.8 184.54L422.0 184.49L424.2 184.45L426.4 184.41L428.6 184.38L450.6 184.11L472.6 183.95L494.6 183.85L509.3 183.79"/>
<path stroke="#0072BD" d="M324.40 81.35L350.91 217.90L356.83 213.93L358.5 208.08L360.1 203.96L361.5 200.77L362.9 198.32L364.2 196.83L365.4 195.64L366.6 194.65L367.8 193.78L368.8 192.94L369.9 192.22L370.9 191.61L371.8 191.08L372.8 190.61L373.7 190.21L374.6 189.85L375.5 189.52L376.3 189.24L377.2 188.98L378.0 188.76L378.8 188.59L379.6 188.43L380.4 188.29L381.2 188.16L382.0 188.04L382.8 187.92L383.6 187.82L384.3 187.72L386.6 187.45L388.9 187.23L391.1 187.05L393.4 186.88L395.6 186.74L397.8 186.62L400.0 186.51L402.2 186.41L404.4 186.33L406.6 186.25L408.8 186.18L411.0 186.11L413.2 186.05L415.4 186.00L417.6 185.95L419.8 185.90L422.0 185.86L424.2 185.82L426.4 185.78L428.6 185.75L450.6 185.49L472.6 185.34L494.6 185.24L509.3 185.19"/>
<path stroke="#D95319" d="M324.40 73.69L350.91 217.90L356.83 213.82L358.5 207.82L360.1 203.58L361.5 200.31L362.9 197.79L364.2 196.27L365.4 195.04L366.6 194.03L367.8 193.13L368.8 192.27L369.9 191.53L370.9 190.90L371.8 190.36L372.8 189.88L373.7 189.46L374.6 189.09L375.5 188.76L376.3 188.47L377.2 188.20L378.0 187.97L378.8 187.80L379.6 187.64L380.4 187.50L381.2 187.36L382.0 187.23L382.8 187.12L383.6 187.01L384.3 186.91L386.6 186.64L388.9 186.41L391.1 186.22L393.4 186.05L395.6 185.91L397.8 185.78L400.0 185.67L402.2 185.57L404.4 185.48L406.6 185.40L408.8 185.32L411.0 185.26L413.2 185.20L415.4 185.14L417.6 185.09L419.8 185.04L422.0 185.00L424.2 184.96L426.4 184.92L428.6 184.88L450.6 184.62L472.6 184.47L494.6 184.36L509.3 184.31"/>
<path stroke="#EDB120" d="M324.40 196.80L350.91 217.90L356.83 213.81L358.5 207.78L360.1 203.53L361.5 200.25L362.9 197.71L364.2 196.19L365.4 194.96L366.6 193.94L367.8 193.04L368.8 192.17L369.9 191.43L370.9 190.80L371.8 190.25L372.8 189.77L373.7 189.35L374.6 188.98L375.5 188.65L376.3 188.36L377.2 188.09L378.0 187.86L378.8 187.69L379.6 187.53L380.4 187.38L381.2 187.25L382.0 187.12L382.8 187.00L383.6 186.89L384.3 186.79L386.6 186.52L388.9 186.29L391.1 186.10L393.4 185.93L395.6 185.79L397.8 185.66L400.0 185.55L402.2 185.45L404.4 185.36L406.6 185.28L408.8 185.20L411.0 185.14L413.2 185.07L415.4 185.02L417.6 184.97L419.8 184.92L422.0 184.87L424.2 184.83L426.4 184.80L428.6 184.76L450.6 184.50L472.6 184.34L494.6 184.23L509.3 184.18"/>
<path stroke="#7E2F8E" d="M324.40 194.31L350.91 217.90L356.83 213.88L358.5 207.96L360.1 203.78L361.5 200.55L362.9 198.06L364.2 196.56L365.4 195.35L366.6 194.36L367.8 193.47L368.8 192.62L369.9 191.89L370.9 191.27L371.8 190.73L372.8 190.26L373.7 189.85L374.6 189.48L375.5 189.16L376.3 188.87L377.2 188.61L378.0 188.38L378.8 188.21L379.6 188.06L380.4 187.91L381.2 187.78L382.0 187.65L382.8 187.54L383.6 187.43L384.3 187.33L386.6 187.06L388.9 186.84L391.1 186.65L393.4 186.49L395.6 186.34L397.8 186.22L400.0 186.11L402.2 186.01L404.4 185.92L406.6 185.84L408.8 185.77L411.0 185.70L413.2 185.64L415.4 185.59L417.6 185.54L419.8 185.49L422.0 185.45L424.2 185.41L426.4 185.37L428.6 185.33L450.6 185.08L472.6 184.92L494.6 184.82L509.3 184.77"/>
<path stroke="#77AC30" d="M324.40 28.59L350.91 217.90L356.83 213.83L358.5 207.84L360.1 203.62L361.5 200.35L362.9 197.83L364.2 196.32L365.4 195.09L366.6 194.08L367.8 193.19L368.8 192.32L369.9 191.59L370.9 190.96L371.8 190.42L372.8 189.94L373.7 189.52L374.6 189.16L375.5 188.83L376.3 188.53L377.2 188.27L378.0 188.04L378.8 187.87L379.6 187.71L380.4 187.56L381.2 187.43L382.0 187.30L382.8 187.19L383.6 187.08L384.3 186.97L386.6 186.70L388.9 186.48L391.1 186.29L393.4 186.12L395.6 185.98L397.8 185.85L400.0 185.74L402.2 185.64L404.4 185.55L406.6 185.47L408.8 185.40L411.0 185.33L413.2 185.27L415.4 185.21L417.6 185.16L419.8 185.11L422.0 185.07L424.2 185.03L426.4 184.99L428.6 184.96L450.6 184.70L472.6 184.54L494.6 184.43L509.3 184.38"/>
<path stroke="#4DBEEE" d="M324.40 96.24L350.91 217.90L356.83 213.96L358.5 208.16L360.1 204.07L361.5 200.91L362.9 198.47L364.2 197.00L365.4 195.82L366.6 194.84L367.8 193.97L368.8 193.13L369.9 192.42L370.9 191.82L371.8 191.29L372.8 190.83L373.7 190.42L374.6 190.07L375.5 189.75L376.3 189.46L377.2 189.21L378.0 188.99L378.8 188.82L379.6 188.67L380.4 188.53L381.2 188.39L382.0 188.27L382.8 188.16L383.6 188.05L384.3 187.96L386.6 187.69L388.9 187.48L391.1 187.29L393.4 187.13L395.6 186.99L397.8 186.87L400.0 186.76L402.2 186.66L404.4 186.58L406.6 186.50L408.8 186.43L411.0 186.36L413.2 186.30L415.4 186.25L417.6 186.20L419.8 186.15L422.0 186.11L424.2 186.07L426.4 186.04L428.6 186.00L450.6 185.75L472.6 185.60L494.6 185.50L509.3 185.44"/>
<path stroke="#A2142F" d="M324.40 131.42L350.91 217.90L356.83 213.96L358.5 208.16L360.1 204.07L361.5 200.91L362.9 198.47L364.2 197.01L365.4 195.82L366.6 194.84L367.8 193.98L368.8 193.14L369.9 192.43L370.9 191.82L371.8 191.29L372.8 190.83L373.7 190.43L374.6 190.07L375.5 189.76L376.3 189.47L377.2 189.21L378.0 188.99L378.8 188.83L379.6 188.67L380.4 188.53L381.2 188.40L382.0 188.28L382.8 188.17L383.6 188.06L384.3 187.96L386.6 187.70L388.9 187.48L391.1 187.30L393.4 187.14L395.6 187.00L397.8 186.87L400.0 186.77L402.2 186.67L404.4 186.58L406.6 186.51L408.8 186.43L411.0 186.37L413.2 186.31L415.4 186.26L417.6 186.21L419.8 186.16L422.0 186.12L424.2 186.08L426.4 186.04L428.6 186.01L450.6 185.76L472.6 185.60L494.6 185.50L509.3 185.45"/>
<path stroke="#0072BD" d="M324.40 98.52L350.91 217.90L356.83 213.92L358.5 208.07L360.1 203.93L361.5 200.74L362.9 198.28L364.2 196.80L365.4 195.60L366.6 194.62L367.8 193.74L368.8 192.90L369.9 192.18L370.9 191.56L371.8 191.03L372.8 190.57L373.7 190.16L374.6 189.80L375.5 189.48L376.3 189.19L377.2 188.93L378.0 188.71L378.8 188.54L379.6 188.38L380.4 188.24L381.2 188.11L382.0 187.99L382.8 187.87L383.6 187.77L384.3 187.67L386.6 187.40L388.9 187.18L391.1 186.99L393.4 186.83L395.6 186.69L397.8 186.57L400.0 186.46L402.2 186.36L404.4 186.27L406.6 186.19L408.8 186.12L411.0 186.06L413.2 186.00L415.4 185.94L417.6 185.89L419.8 185.85L422.0 185.80L424.2 185.76L426.4 185.73L428.6 185.69L450.6 185.44L472.6 185.29L494.6 185.18L509.3 185.13"/>
<path stroke="#D95319" d="M324.40 67.69L350.91 217.90L356.83 213.79L358.5 207.76L360.1 203.49L361.5 200.20L362.9 197.66L364.2 196.13L365.4 194.89L366.6 193.88L367.8 192.97L368.8 192.10L369.9 191.36L370.9 190.73L371.8 190.18L372.8 189.70L373.7 189.28L374.6 188.91L375.5 188.57L376.3 188.28L377.2 188.01L378.0 187.78L378.8 187.61L379.6 187.45L380.4 187.30L381.2 187.16L382.0 187.04L382.8 186.92L383.6 186.81L384.3 186.71L386.6 186.43L388.9 186.21L391.1 186.01L393.4 185.85L395.6 185.70L397.8 185.57L400.0 185.46L402.2 185.36L404.4 185.27L406.6 185.19L408.8 185.11L411.0 185.05L413.2 184.99L415.4 184.93L417.6 184.88L419.8 184.83L422.0 184.79L424.2 184.74L426.4 184.71L428.6 184.67L450.6 184.41L472.6 184.25L494.6 184.14L509.3 184.09"/>
<path stroke="#EDB120" d="M324.40 102.86L350.91 217.90L356.83 213.86L358.5 207.92L360.1 203.73L361.5 200.49L362.9 197.99L364.2 196.49L365.4 195.27L366.6 194.27L367.8 193.38L368.8 192.52L369.9 191.80L370.9 191.17L371.8 190.63L372.8 190.16L373.7 189.75L374.6 189.38L375.5 189.06L376.3 188.76L377.2 188.50L378.0 188.27L378.8 188.10L379.6 187.95L380.4 187.80L381.2 187.67L382.0 187.54L382.8 187.43L383.6 187.32L384.3 187.22L386.6 186.95L388.9 186.73L391.1 186.54L393.4 186.37L395.6 186.23L397.8 186.10L400.0 185.99L402.2 185.89L404.4 185.80L406.6 185.72L408.8 185.65L411.0 185.59L413.2 185.53L415.4 185.47L417.6 185.42L419.8 185.37L422.0 185.33L424.2 185.29L426.4 185.25L428.6 185.21L450.6 184.96L472.6 184.80L494.6 184.70L509.3 184.64"/>
<path stroke="#7E2F8E" d="M324.40 198.45L350.91 217.90L356.83 213.89L358.5 208.00L360.1 203.83L361.5 200.62L362.9 198.14L364.2 196.65L365.4 195.44L366.6 194.45L367.8 193.56L368.8 192.71L369.9 191.99L370.9 191.37L371.8 190.84L372.8 190.37L373.7 189.96L374.6 189.59L375.5 189.27L376.3 188.98L377.2 188.72L378.0 188.50L378.8 188.33L379.6 188.17L380.4 188.03L381.2 187.89L382.0 187.77L382.8 187.65L383.6 187.55L384.3 187.45L386.6 187.18L388.9 186.96L391.1 186.77L393.4 186.61L395.6 186.47L397.8 186.34L400.0 186.23L402.2 186.13L404.4 186.04L406.6 185.97L408.8 185.89L411.0 185.83L413.2 185.77L415.4 185.71L417.6 185.66L419.8 185.62L422.0 185.57L424.2 185.53L426.4 185.49L428.6 185.46L450.6 185.20L472.6 185.05L494.6 184.95L509.3 184.89"/>
<path stroke="#77AC30" d="M324.40 44.10L350.91 217.90L356.83 213.82L358.5 207.82L360.1 203.58L361.5 200.31L362.9 197.78L364.2 196.26L365.4 195.04L366.6 194.02L367.8 193.13L368.8 192.26L369.9 191.52L370.9 190.89L371.8 190.35L372.8 189.87L373.7 189.45L374.6 189.08L375.5 188.75L376.3 188.46L377.2 188.19L378.0 187.97L378.8 187.79L379.6 187.63L380.4 187.49L381.2 187.35L382.0 187.23L382.8 187.11L383.6 187.00L384.3 186.90L386.6 186.63L388.9 186.40L391.1 186.21L393.4 186.04L395.6 185.90L397.8 185.77L400.0 185.66L402.2 185.56L404.4 185.47L406.6 185.39L408.8 185.32L411.0 185.25L413.2 185.19L415.4 185.13L417.6 185.08L419.8 185.03L422.0 184.99L424.2 184.95L426.4 184.91L428.6 184.87L450.6 184.61L472.6 184.46L494.6 184.35L509.3 184.30"/>
<path stroke="#4DBEEE" d="M324.40 135.97L350.91 217.90L356.83 213.85L358.5 207.91L360.1 203.70L361.5 200.46L362.9 197.96L364.2 196.45L365.4 195.23L366.6 194.23L367.8 193.34L368.8 192.48L369.9 191.75L370.9 191.13L371.8 190.59L372.8 190.11L373.7 189.70L374.6 189.33L375.5 189.01L376.3 188.71L377.2 188.45L378.0 188.22L378.8 188.05L379.6 187.90L380.4 187.75L381.2 187.62L382.0 187.49L382.8 187.38L383.6 187.27L384.3 187.17L386.6 186.90L388.9 186.67L391.1 186.48L393.4 186.32L395.6 186.17L397.8 186.05L400.0 185.94L402.2 185.84L404.4 185.75L406.6 185.67L408.8 185.60L411.0 185.53L413.2 185.47L415.4 185.42L417.6 185.36L419.8 185.32L422.0 185.27L424.2 185.23L426.4 185.20L428.6 185.16L450.6 184.90L472.6 184.75L494.6 184.64L509.3 184.59"/>
<path stroke="#A2142F" d="M324.40 126.86L350.91 217.90L356.83 213.90L358.5 208.01L360.1 203.85L361.5 200.64L362.9 198.16L364.2 196.67L365.4 195.46L366.6 194.47L367.8 193.59L368.8 192.74L369.9 192.02L370.9 191.40L371.8 190.86L372.8 190.40L373.7 189.98L374.6 189.62L375.5 189.30L376.3 189.01L377.2 188.75L378.0 188.52L378.8 188.35L379.6 188.20L380.4 188.06L381.2 187.92L382.0 187.80L382.8 187.68L383.6 187.58L384.3 187.48L386.6 187.21L388.9 186.99L391.1 186.80L393.4 186.64L395.6 186.50L397.8 186.37L400.0 186.26L402.2 186.16L404.4 186.08L406.6 186.00L408.8 185.92L411.0 185.86L413.2 185.80L415.4 185.74L417.6 185.69L419.8 185.65L422.0 185.60L424.2 185.56L426.4 185.53L428.6 185.49L450.6 185.23L472.6 185.08L494.6 184.98L509.3 184.92"/>
<path stroke="#0072BD" d="M324.40 78.66L350.91 217.90L356.83 212.99L358.5 206.43L360.1 201.92L361.5 198.55L362.9 196.31L364.2 194.80L365.4 193.59L366.6 192.56L367.8 191.56L368.8 190.74L369.9 190.04L370.9 189.45L371.8 188.94L372.8 188.49L373.7 188.10L374.6 187.76L375.5 187.45L376.3 187.20L377.2 187.01L378.0 186.83L378.8 186.67L379.6 186.52L380.4 186.38L381.2 186.25L382.0 186.14L382.8 186.03L383.6 185.92L384.3 185.83L386.6 185.58L388.9 185.37L391.1 185.19L393.4 185.03L395.6 184.90L397.8 184.78L400.0 184.68L402.2 184.58L404.4 184.50L406.6 184.43L408.8 184.36L411.0 184.30L413.2 184.24L415.4 184.19L417.6 184.14L419.8 184.10L422.0 184.06L424.2 184.02L426.4 183.98L428.6 183.95L450.6 183.71L472.6 183.57L494.6 183.47L509.3 183.42"/>
<path stroke="#D95319" d="M324.40 107.00L350.91 217.90L356.83 213.76L358.5 207.68L360.1 203.38L361.5 200.07L362.9 197.51L364.2 195.97L365.4 194.72L366.6 193.70L367.8 192.79L368.8 191.91L369.9 191.17L370.9 190.53L371.8 189.97L372.8 189.49L373.7 189.07L374.6 188.69L375.5 188.36L376.3 188.06L377.2 187.79L378.0 187.56L378.8 187.38L379.6 187.22L380.4 187.07L381.2 186.94L382.0 186.81L382.8 186.69L383.6 186.58L384.3 186.48L386.6 186.20L388.9 185.97L391.1 185.78L393.4 185.61L395.6 185.46L397.8 185.33L400.0 185.22L402.2 185.12L404.4 185.03L406.6 184.95L408.8 184.87L411.0 184.80L413.2 184.74L415.4 184.69L417.6 184.63L419.8 184.59L422.0 184.54L424.2 184.50L426.4 184.46L428.6 184.42L450.6 184.16L472.6 184.00L494.6 183.89L509.3 183.84"/>
<path stroke="#EDB120" d="M324.40 180.66L350.91 217.90L356.83 213.79L358.5 207.74L360.1 203.47L361.5 200.18L362.9 197.63L364.2 196.10L365.4 194.87L366.6 193.85L367.8 192.94L368.8 192.07L369.9 191.33L370.9 190.69L371.8 190.14L372.8 189.66L373.7 189.24L374.6 188.87L375.5 188.54L376.3 188.24L377.2 187.97L378.0 187.74L378.8 187.57L379.6 187.41L380.4 187.26L381.2 187.13L382.0 187.00L382.8 186.88L383.6 186.77L384.3 186.67L386.6 186.40L388.9 186.17L391.1 185.97L393.4 185.81L395.6 185.66L397.8 185.53L400.0 185.42L402.2 185.32L404.4 185.23L406.6 185.15L408.8 185.08L411.0 185.01L413.2 184.95L415.4 184.89L417.6 184.84L419.8 184.79L422.0 184.75L424.2 184.70L426.4 184.67L428.6 184.63L450.6 184.37L472.6 184.21L494.6 184.10L509.3 184.05"/>
<path stroke="#7E2F8E" d="M324.40 203.00L350.91 217.90L356.83 213.91L358.5 208.04L360.1 203.90L361.5 200.70L362.9 198.23L364.2 196.75L365.4 195.54L366.6 194.56L367.8 193.68L368.8 192.83L369.9 192.11L370.9 191.50L371.8 190.96L372.8 190.50L373.7 190.09L374.6 189.73L375.5 189.40L376.3 189.12L377.2 188.86L378.0 188.63L378.8 188.46L379.6 188.31L380.4 188.17L381.2 188.03L382.0 187.91L382.8 187.80L383.6 187.69L384.3 187.59L386.6 187.32L388.9 187.10L391.1 186.91L393.4 186.75L395.6 186.61L397.8 186.49L400.0 186.38L402.2 186.28L404.4 186.19L406.6 186.11L408.8 186.04L411.0 185.98L413.2 185.92L415.4 185.86L417.6 185.81L419.8 185.77L422.0 185.72L424.2 185.68L426.4 185.65L428.6 185.61L450.6 185.36L472.6 185.20L494.6 185.10L509.3 185.05"/>
<path stroke="#77AC30" d="M324.40 192.04L350.91 217.90L356.83 213.83L358.5 207.86L360.1 203.63L361.5 200.37L362.9 197.86L364.2 196.34L365.4 195.12L366.6 194.11L367.8 193.22L368.8 192.36L369.9 191.62L370.9 191.00L371.8 190.45L372.8 189.98L373.7 189.56L374.6 189.19L375.5 188.86L376.3 188.57L377.2 188.31L378.0 188.08L378.8 187.91L379.6 187.75L380.4 187.60L381.2 187.47L382.0 187.34L382.8 187.22L383.6 187.12L384.3 187.01L386.6 186.74L388.9 186.52L391.1 186.33L393.4 186.16L395.6 186.02L397.8 185.89L400.0 185.78L402.2 185.68L404.4 185.59L406.6 185.51L408.8 185.44L411.0 185.37L413.2 185.31L415.4 185.26L417.6 185.20L419.8 185.16L422.0 185.11L424.2 185.07L426.4 185.03L428.6 185.00L450.6 184.74L472.6 184.58L494.6 184.48L509.3 184.42"/>
<path stroke="#4DBEEE" d="M324.40 145.49L350.91 217.90L356.83 213.70L358.5 207.53L360.1 203.17L361.5 199.81L362.9 197.21L364.2 195.65L365.4 194.39L366.6 193.35L367.8 192.43L368.8 191.53L369.9 190.78L370.9 190.13L371.8 189.57L372.8 189.08L373.7 188.65L374.6 188.27L375.5 187.93L376.3 187.63L377.2 187.35L378.0 187.12L378.8 186.94L379.6 186.78L380.4 186.63L381.2 186.49L382.0 186.36L382.8 186.24L383.6 186.13L384.3 186.02L386.6 185.74L388.9 185.51L391.1 185.31L393.4 185.14L395.6 184.99L397.8 184.86L400.0 184.75L402.2 184.65L404.4 184.55L406.6 184.47L408.8 184.39L411.0 184.33L413.2 184.26L415.4 184.21L417.6 184.15L419.8 184.10L422.0 184.06L424.2 184.02L426.4 183.98L428.6 183.94L450.6 183.67L472.6 183.51L494.6 183.40L509.3 183.35"/>
<path stroke="#A2142F" d="M324.40 123.14L350.91 217.90L356.83 213.98L358.5 208.20L360.1 204.13L361.5 200.98L362.9 198.55L364.2 197.09L365.4 195.91L366.6 194.94L367.8 194.07L368.8 193.24L369.9 192.53L370.9 191.93L371.8 191.40L372.8 190.94L373.7 190.54L374.6 190.19L375.5 189.87L376.3 189.59L377.2 189.33L378.0 189.11L378.8 188.94L379.6 188.79L380.4 188.65L381.2 188.52L382.0 188.40L382.8 188.29L383.6 188.18L384.3 188.08L386.6 187.82L388.9 187.60L391.1 187.42L393.4 187.26L395.6 187.12L397.8 187.00L400.0 186.89L402.2 186.80L404.4 186.71L406.6 186.63L408.8 186.56L411.0 186.50L413.2 186.44L415.4 186.39L417.6 186.34L419.8 186.29L422.0 186.25L424.2 186.21L426.4 186.17L428.6 186.14L450.6 185.89L472.6 185.73L494.6 185.63L509.3 185.58"/>
<path stroke="#0072BD" d="M324.40 114.45L350.91 217.90L356.83 212.64L358.5 204.91L360.1 199.45L361.5 195.24L362.9 191.99L364.2 190.03L365.4 188.45L366.6 187.14L367.8 185.99L368.8 184.87L369.9 183.93L370.9 183.11L371.8 182.41L372.8 181.80L373.7 181.26L374.6 180.78L375.5 180.36L376.3 179.98L377.2 179.64L378.0 179.34L378.8 179.12L379.6 178.91L380.4 178.73L381.2 178.55L382.0 178.39L382.8 178.24L383.6 178.10L384.3 177.97L386.6 177.62L388.9 177.33L391.1 177.08L393.4 176.86L395.6 176.68L397.8 176.51L400.0 176.37L402.2 176.24L404.4 176.13L406.6 176.02L408.8 175.93L411.0 175.84L413.2 175.76L415.4 175.69L417.6 175.63L419.8 175.56L422.0 175.51L424.2 175.45L426.4 175.40L428.6 175.36L450.6 175.02L472.6 174.82L494.6 174.68L509.3 174.62"/>
</g>
</svg>
</body></html>
